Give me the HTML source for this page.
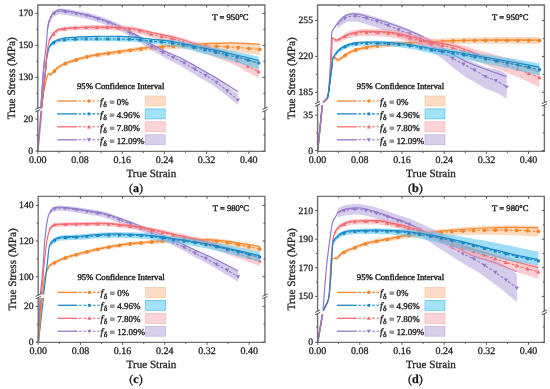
<!DOCTYPE html>
<html><head><meta charset="utf-8"><style>
html,body{margin:0;padding:0;background:#fff;}
body{width:550px;height:389px;overflow:hidden;}
svg{display:block;}
text{text-rendering:geometricPrecision;stroke:#222;stroke-width:0.28px;}
</style></head><body>
<svg width="550" height="389" viewBox="0 0 550 389" style="will-change:transform">
<rect width="550" height="389" fill="#fff"/>
<path d="M48.6,72.5 L49.4,72.7 L50.2,72.9 L50.9,72.8 L52.2,71.7 L53.4,70.5 L54.5,69.2 L55.7,68 L56.8,66.8 L58.1,65.7 L59.7,64.7 L61.3,63.7 L63,62.8 L65.3,61.8 L67.6,60.9 L69.9,60.1 L71.9,59.4 L74,58.7 L76,58 L77.3,57.6 L78.5,57.2 L79.8,56.8 L83.4,55.8 L87,54.7 L90.6,53.9 L98,52.7 L105.5,51.6 L113,50.6 L120.8,49.4 L128.5,48.2 L136.3,47.1 L140.9,46.5 L145.4,46 L150,45.5 L158.2,44.8 L166.5,44.1 L174.7,43.6 L181.9,43.1 L189,42.7 L196.2,42.5 L203,42.5 L209.8,42.5 L216.6,42.6 L220.2,42.7 L223.8,42.8 L227.4,42.8 L231,42.9 L234.6,42.9 L238.2,43 L241.8,43.1 L245.4,43.3 L249,43.5 L252.6,43.7 L256.1,43.8 L259.7,43.9 L259.7,54.9 L256.1,54.5 L252.6,54.1 L249,53.7 L245.4,53.2 L241.8,52.7 L238.2,52.2 L234.6,51.8 L231,51.5 L227.4,51.2 L223.8,50.8 L220.2,50.4 L216.6,50 L209.8,49.4 L203,48.8 L196.2,48.5 L189,48.5 L181.9,48.7 L174.7,49 L166.5,49.5 L158.2,49.9 L150,50.5 L145.4,50.9 L140.9,51.4 L136.3,51.9 L128.5,52.9 L120.8,54 L113,55 L105.5,56 L98,56.9 L90.6,58.1 L87,58.9 L83.4,59.8 L79.8,60.8 L78.5,61.2 L77.3,61.6 L76,62 L74,62.6 L71.9,63.3 L69.9,63.9 L67.6,64.8 L65.3,65.6 L63,66.6 L61.3,67.4 L59.7,68.4 L58.1,69.5 L56.8,70.5 L55.7,71.7 L54.5,72.8 L53.4,74.1 L52.2,75.4 L50.9,76.4 L50.2,76.5 L49.4,76.3 L48.6,76.1 Z" fill="#f9b98a" fill-opacity="0.55"/>
<path d="M41.6,108.2 C42.1,103.8 42.5,99.4 43.2,95 C43.8,91 44.7,87 45.6,83 C46.2,80.5 46.7,78 47.5,75.5 C47.7,74.9 48,74 48.6,73.8 C49.3,73.5 50.2,74.6 50.9,74.2 C52.4,73.4 53.3,71.8 54.5,70.6 C55.7,69.4 56.8,68.2 58.1,67.2 C59.6,66.1 61.3,65.1 63,64.3 C65.2,63.2 67.6,62.4 69.9,61.6 C71.9,60.9 74,60.3 76,59.6 C77.3,59.2 78.5,58.7 79.8,58.4 C83.4,57.5 87,56.5 90.6,55.8 C98,54.4 105.5,53.4 113,52.3 C120.8,51.1 128.5,50.1 136.3,49 C140.9,48.4 145.4,47.6 150,47.2 C158.2,46.4 166.5,45.9 174.7,45.3 C181.9,44.8 189,44.3 196.2,44 C207.5,43.5 218.7,43 230,42.8 C235,42.7 240,43 245,43.3 C249.9,43.5 254.8,44 259.7,44.3" fill="none" stroke="#f5862a" stroke-width="1.2"/>
<path d="M48.6,74.3 C49.4,74.4 50.2,75 50.9,74.6 C52.4,73.8 53.3,72.2 54.5,71 C55.7,69.8 56.8,68.6 58.1,67.6 C59.6,66.5 61.3,65.5 63,64.7 C65.2,63.6 67.6,62.8 69.9,62 C71.9,61.3 74,60.7 76,60 C77.3,59.6 78.5,59.2 79.8,58.8 C83.4,57.8 86.9,56.7 90.6,56 C98,54.7 105.5,53.9 113,52.8 C120.8,51.7 128.5,50.5 136.3,49.5 C140.9,48.9 145.4,48.4 150,48 C158.2,47.3 166.5,46.7 174.7,46.3 C181.9,45.9 189,45.5 196.2,45.5 C203,45.5 209.8,46 216.6,46.3 C220.2,46.5 223.8,46.8 227.4,47 C231,47.2 234.6,47.3 238.2,47.6 C241.8,47.9 245.4,48.3 249,48.6 C252.6,48.9 256.1,49.1 259.7,49.4" fill="none" stroke="#f5862a" stroke-width="1.05" stroke-dasharray="2.9,1.7"/>
<circle cx="259.7" cy="49.4" r="1.9" fill="#f5862a"/>
<circle cx="248.9" cy="48.6" r="1.9" fill="#f5862a"/>
<circle cx="238.1" cy="47.6" r="1.9" fill="#f5862a"/>
<circle cx="227.3" cy="47" r="1.9" fill="#f5862a"/>
<circle cx="216.5" cy="46.3" r="1.9" fill="#f5862a"/>
<circle cx="205.7" cy="45.7" r="1.9" fill="#f5862a"/>
<circle cx="194.9" cy="45.5" r="1.9" fill="#f5862a"/>
<circle cx="184.1" cy="45.8" r="1.9" fill="#f5862a"/>
<circle cx="173.3" cy="46.4" r="1.9" fill="#f5862a"/>
<circle cx="162.5" cy="47" r="1.9" fill="#f5862a"/>
<circle cx="151.7" cy="47.9" r="1.9" fill="#f5862a"/>
<circle cx="140.9" cy="48.9" r="1.9" fill="#f5862a"/>
<circle cx="130.1" cy="50.3" r="1.9" fill="#f5862a"/>
<circle cx="119.3" cy="51.9" r="1.9" fill="#f5862a"/>
<circle cx="108.5" cy="53.4" r="1.9" fill="#f5862a"/>
<circle cx="97.7" cy="54.9" r="1.9" fill="#f5862a"/>
<circle cx="86.9" cy="56.8" r="1.9" fill="#f5862a"/>
<circle cx="76.1" cy="60" r="1.9" fill="#f5862a"/>
<circle cx="65.3" cy="63.7" r="1.9" fill="#f5862a"/>
<circle cx="54.5" cy="71" r="1.9" fill="#f5862a"/>
<path d="M47.9,24.5 L48.4,22.8 L48.8,21.2 L49.3,19.6 L49.8,18 L50.4,16.4 L50.9,15.3 L51.4,14.2 L52,13.1 L52.7,12.1 L53.5,11.2 L54.4,10.5 L55.4,9.8 L56.5,9.3 L57.6,8.8 L58.7,8.6 L60.1,8.4 L61.5,8.4 L63,8.6 L64.4,8.8 L65.8,9 L67.6,9.2 L69.5,9.5 L71.3,9.8 L73.2,10.1 L75,10.4 L78,10.9 L81,11.4 L84,12 L87,12.6 L90,13.3 L94.7,14.7 L99.3,16.1 L103.9,17.7 L108.5,19.4 L113,21.2 L117.7,23.3 L122.4,25.6 L126.9,28.1 L131.5,30.5 L136,33.1 L138.8,34.8 L141.6,36.6 L144.4,38.4 L147.2,40.3 L150,42 L153,43.8 L156.1,45.4 L159.2,47.1 L162.3,48.7 L165.4,50.3 L168.5,51.8 L171.6,53.3 L174.7,54.7 L177.7,56.2 L180.8,57.8 L183.9,59.5 L187,61.2 L190.1,63 L193.1,64.8 L196.2,66.6 L199.9,68.7 L203.7,70.6 L207.5,72.4 L211.1,74.4 L214.7,76.6 L219.5,79.8 L224.2,83.3 L228.8,86.8 L233.4,90.4 L238,93.9 L238,105.1 L233.4,101.3 L228.8,97.5 L224.2,93.7 L219.5,90.1 L214.7,86.5 L211.1,84.2 L207.5,82 L203.7,80 L199.9,77.9 L196.2,75.6 L193.1,73.7 L190.1,71.8 L187,69.8 L183.9,67.9 L180.8,66.1 L177.7,64.4 L174.7,62.8 L171.6,61.3 L168.5,59.7 L165.4,58 L162.3,56.3 L159.2,54.5 L156.1,52.7 L153,50.9 L150,49 L147.2,47.2 L144.4,45.4 L141.6,43.5 L138.8,41.7 L136,39.9 L131.5,37.3 L126.9,34.8 L122.4,32.3 L117.7,30 L113,27.8 L108.5,25.9 L103.9,24.2 L99.3,22.6 L94.7,21.1 L90,19.7 L87,18.9 L84,18.2 L81,17.7 L78,17.1 L75,16.6 L73.2,16.2 L71.3,15.9 L69.5,15.6 L67.6,15.3 L65.8,15 L64.4,14.8 L63,14.6 L61.5,14.4 L60.1,14.4 L58.7,14.4 L57.6,14.7 L56.5,15 L55.4,15.5 L54.4,16.1 L53.5,16.8 L52.7,17.6 L52,18.5 L51.4,19.5 L50.9,20.6 L50.4,21.6 L49.8,23.2 L49.3,24.7 L48.8,26.3 L48.4,27.9 L47.9,29.5 Z" fill="#b7a5dc" fill-opacity="0.58"/>
<path d="M40.8,108.2 C41.7,95.5 42.6,82.7 43.6,70 C43.9,66.7 44.1,63.3 44.5,60 C45,55 45.8,50 46.3,45 C46.9,38.7 47,32.3 47.9,26 C48.3,23.1 49.2,20.2 50.4,17.5 C51.1,15.8 52.1,14.1 53.5,12.8 C55,11.5 56.8,10.3 58.7,10 C61,9.6 63.5,10.2 65.8,10.6 C68.9,11.1 71.9,11.9 75,12.5 C80,13.5 85.1,14.2 90,15.6 C97.8,17.9 105.5,20.3 113,23.5 C120.9,26.8 128.5,30.9 136,35 C140.8,37.6 145.2,40.8 150,43.5 C155,46.3 160.2,49 165.4,51.5 C170.4,53.9 175.8,55.6 180.8,58 C186.1,60.6 191.1,63.6 196.2,66.5 C202.4,70 208.6,73.3 214.7,77 C222.6,81.8 230.2,86.9 238,91.8" fill="none" stroke="#9479c8" stroke-width="1.2"/>
<path d="M47.9,27 C48.7,24.3 49.3,21.6 50.4,19 C51.2,17.2 52,15.3 53.5,14 C54.9,12.7 56.8,11.8 58.7,11.5 C61,11.1 63.4,11.7 65.8,12 C68.9,12.4 71.9,12.9 75,13.5 C80,14.4 85.1,15.1 90,16.5 C97.8,18.8 105.6,21.3 113,24.5 C120.9,27.9 128.5,32.2 136,36.5 C140.8,39.2 145.2,42.7 150,45.5 C155,48.5 160.2,51.2 165.4,53.8 C170.5,56.4 175.8,58.5 180.8,61.2 C186,64 191.1,67 196.2,70 C202.4,73.6 208.9,76.8 214.7,81 C222.8,86.8 230.2,93.7 238,100" fill="none" stroke="#9479c8" stroke-width="1.05" stroke-dasharray="2.9,1.7"/>
<path d="M238,102.1 L235.9,98.4 L240.1,98.4 Z" fill="#9479c8"/>
<path d="M227.2,93 L225.1,89.3 L229.3,89.3 Z" fill="#9479c8"/>
<path d="M216.4,84.4 L214.3,80.7 L218.5,80.7 Z" fill="#9479c8"/>
<path d="M205.6,77.4 L203.5,73.7 L207.7,73.7 Z" fill="#9479c8"/>
<path d="M194.8,71.3 L192.7,67.6 L196.9,67.6 Z" fill="#9479c8"/>
<path d="M184,65.1 L181.9,61.4 L186.1,61.4 Z" fill="#9479c8"/>
<path d="M173.2,59.6 L171.1,55.9 L175.3,55.9 Z" fill="#9479c8"/>
<path d="M162.4,54.4 L160.3,50.7 L164.5,50.7 Z" fill="#9479c8"/>
<path d="M151.6,48.6 L149.5,44.9 L153.7,44.9 Z" fill="#9479c8"/>
<path d="M140.8,41.6 L138.7,37.9 L142.9,37.9 Z" fill="#9479c8"/>
<path d="M130,35.2 L127.9,31.5 L132.1,31.5 Z" fill="#9479c8"/>
<path d="M119.2,29.5 L117.1,25.8 L121.3,25.8 Z" fill="#9479c8"/>
<path d="M108.4,24.7 L106.3,21 L110.5,21 Z" fill="#9479c8"/>
<path d="M97.6,20.9 L95.5,17.2 L99.7,17.2 Z" fill="#9479c8"/>
<path d="M86.8,17.8 L84.7,14.1 L88.9,14.1 Z" fill="#9479c8"/>
<path d="M76,15.8 L73.9,12.1 L78.1,12.1 Z" fill="#9479c8"/>
<path d="M65.2,14 L63.1,10.3 L67.3,10.3 Z" fill="#9479c8"/>
<path d="M54.4,15.4 L52.3,11.7 L56.5,11.7 Z" fill="#9479c8"/>
<path d="M50,37.3 L50.5,36.5 L51,35.7 L51.5,34.9 L52,34.1 L52.5,33.4 L53.1,32.7 L53.7,32 L54.3,31.3 L54.9,30.7 L55.6,30 L56.2,29.5 L56.7,29 L57.4,28.5 L58,28.2 L58.7,27.9 L61.6,27.3 L64.6,26.8 L67.6,26.4 L70.6,26 L73.6,25.8 L77.9,25.5 L82.2,25.3 L86.4,25.2 L90.7,25.1 L95,25.1 L100,25 L105,25 L110,25 L115,25.1 L120,25.3 L123.2,25.5 L126.4,25.8 L129.6,26.1 L132.8,26.6 L136,27.1 L138.8,27.8 L141.6,28.6 L144.4,29.4 L147.2,30.3 L150,31 L154.9,32 L159.9,32.9 L164.8,33.7 L169.8,34.7 L174.7,35.8 L179,36.9 L183.3,38.1 L187.6,39.5 L191.9,40.8 L196.2,42.1 L203,44 L209.8,45.9 L216.6,47.8 L223.3,49.8 L230,52 L233.8,53.4 L237.6,55.1 L241.3,56.8 L245,58.6 L248.7,60.3 L250.7,61.3 L252.8,62.3 L254.8,63.2 L256.8,64.2 L258.8,65.2 L258.8,78.2 L256.8,77.1 L254.8,76 L252.8,74.8 L250.7,73.7 L248.7,72.7 L245,70.7 L241.3,68.6 L237.6,66.6 L233.8,64.7 L230,63 L223.3,60.4 L216.6,57.9 L209.8,55.6 L203,53.2 L196.2,50.9 L191.9,49.3 L187.6,47.7 L183.3,46.1 L179,44.6 L174.7,43.2 L169.8,41.9 L164.8,40.6 L159.9,39.5 L154.9,38.3 L150,37 L147.2,36.2 L144.4,35.3 L141.6,34.4 L138.8,33.6 L136,32.9 L132.8,32.2 L129.6,31.7 L126.4,31.3 L123.2,31 L120,30.7 L115,30.4 L110,30.2 L105,30.1 L100,30 L95,29.9 L90.7,29.9 L86.4,29.9 L82.2,29.9 L77.9,30 L73.6,30.2 L70.6,30.4 L67.6,30.7 L64.6,31.1 L61.6,31.5 L58.7,32.1 L58,32.3 L57.4,32.7 L56.7,33.2 L56.2,33.7 L55.6,34.2 L54.9,34.8 L54.3,35.4 L53.7,36 L53.1,36.7 L52.5,37.4 L52,38.2 L51.5,38.9 L51,39.7 L50.5,40.5 L50,41.3 Z" fill="#f7a3aa" fill-opacity="0.55"/>
<path d="M41.6,108.2 C42.9,95.5 44.3,82.7 45.6,70 C45.9,66.7 46.1,63.3 46.4,60 C46.9,55.1 47.4,50.1 48.2,45.2 C48.6,42.9 49.1,40.5 50,38.3 C50.6,36.9 51.5,35.6 52.5,34.4 C53.4,33.2 54.5,32.1 55.6,31.2 C56.5,30.4 57.5,29.5 58.7,29.3 C63.6,28.4 68.6,28.1 73.6,27.8 C80.7,27.3 87.9,27 95,27 C103.3,26.9 111.7,27.1 120,27.5 C125.4,27.8 130.7,28.2 136,29 C140.7,29.7 145.3,31 150,32 C158.2,33.8 166.5,35.3 174.7,37.5 C182,39.4 189,42.1 196.2,44.2 C207.4,47.6 218.8,50.5 230,54 C239.7,57 249.2,60.3 258.8,63.5" fill="none" stroke="#f46a70" stroke-width="1.2"/>
<path d="M50,39.3 C50.8,38 51.6,36.6 52.5,35.4 C53.4,34.2 54.5,33.1 55.6,32.1 C56.5,31.3 57.5,30.3 58.7,30 C63.6,28.9 68.6,28.3 73.6,28 C80.7,27.5 87.9,27.5 95,27.5 C103.3,27.5 111.7,27.5 120,28 C125.4,28.3 130.7,28.9 136,30 C140.8,31 145.3,32.8 150,34 C158.2,36 166.6,37.3 174.7,39.5 C182,41.5 189,44.2 196.2,46.5 C207.5,50.2 218.9,53.3 230,57.5 C236.5,60 242.5,63.4 248.7,66.5 C252.1,68.2 255.4,70 258.8,71.7" fill="none" stroke="#f46a70" stroke-width="1.05" stroke-dasharray="2.9,1.7"/>
<path d="M258.8,69.6 L256.7,73.3 L260.9,73.3 Z" fill="#f46a70"/>
<path d="M248,64 L245.9,67.7 L250.1,67.7 Z" fill="#f46a70"/>
<path d="M237.2,58.5 L235.1,62.2 L239.3,62.2 Z" fill="#f46a70"/>
<path d="M226.4,54 L224.3,57.7 L228.5,57.7 Z" fill="#f46a70"/>
<path d="M215.6,50.4 L213.5,54.1 L217.7,54.1 Z" fill="#f46a70"/>
<path d="M204.8,47.1 L202.7,50.8 L206.9,50.8 Z" fill="#f46a70"/>
<path d="M194,43.6 L191.9,47.3 L196.1,47.3 Z" fill="#f46a70"/>
<path d="M183.2,40 L181.1,43.7 L185.3,43.7 Z" fill="#f46a70"/>
<path d="M172.4,36.8 L170.3,40.5 L174.5,40.5 Z" fill="#f46a70"/>
<path d="M161.6,34.4 L159.5,38.1 L163.7,38.1 Z" fill="#f46a70"/>
<path d="M150.8,32.1 L148.7,35.8 L152.9,35.8 Z" fill="#f46a70"/>
<path d="M140,28.9 L137.9,32.6 L142.1,32.6 Z" fill="#f46a70"/>
<path d="M129.2,26.7 L127.1,30.4 L131.3,30.4 Z" fill="#f46a70"/>
<path d="M118.4,25.8 L116.3,29.5 L120.5,29.5 Z" fill="#f46a70"/>
<path d="M107.6,25.4 L105.5,29.1 L109.7,29.1 Z" fill="#f46a70"/>
<path d="M96.8,25.4 L94.7,29.1 L98.9,29.1 Z" fill="#f46a70"/>
<path d="M86,25.4 L83.9,29.1 L88.1,29.1 Z" fill="#f46a70"/>
<path d="M75.2,25.8 L73.1,29.5 L77.3,29.5 Z" fill="#f46a70"/>
<path d="M64.4,26.8 L62.3,30.5 L66.5,30.5 Z" fill="#f46a70"/>
<path d="M53.6,32 L51.5,35.7 L55.7,35.7 Z" fill="#f46a70"/>
<path d="M50.2,44 L50.6,43.5 L51.1,43 L51.5,42.5 L52,42 L52.5,41.6 L53.1,41.2 L53.7,40.8 L54.3,40.4 L55,40.1 L55.6,39.8 L56.2,39.5 L56.8,39.2 L57.4,38.9 L58.1,38.6 L58.7,38.5 L60.1,38.2 L61.6,38 L63,37.8 L64.5,37.7 L65.9,37.6 L69,37.4 L72.1,37.3 L75.1,37.2 L78.2,37 L81.3,36.9 L84,36.9 L86.8,36.8 L89.5,36.7 L92.3,36.7 L95,36.7 L100,36.7 L105,36.7 L110,36.7 L115,36.7 L120,36.8 L123.3,36.8 L126.5,36.8 L129.8,36.9 L133,37 L136.3,37.2 L139,37.4 L141.8,37.6 L144.5,37.9 L147.3,38.2 L150,38.5 L154.9,38.8 L159.9,39.1 L164.8,39.4 L169.8,39.8 L174.7,40.4 L179,41 L183.3,41.7 L187.6,42.6 L191.9,43.5 L196.2,44.3 L203,45.5 L209.7,46.7 L216.5,47.9 L223.3,49.1 L230,50.4 L235.8,51.6 L241.5,52.9 L247.3,54.1 L253,55.4 L258.8,56.7 L258.8,69.3 L253,67.5 L247.3,65.7 L241.5,64 L235.8,62.2 L230,60.6 L223.3,58.7 L216.5,56.9 L209.7,55.1 L203,53.4 L196.2,51.7 L191.9,50.6 L187.6,49.5 L183.3,48.5 L179,47.5 L174.7,46.6 L169.8,45.9 L164.8,45.2 L159.9,44.6 L154.9,44.1 L150,43.5 L147.3,43.2 L144.5,42.9 L141.8,42.5 L139,42.3 L136.3,42 L133,41.8 L129.8,41.7 L126.5,41.6 L123.3,41.5 L120,41.5 L115,41.3 L110,41.3 L105,41.2 L100,41.2 L95,41.1 L92.3,41.1 L89.5,41.1 L86.8,41.2 L84,41.2 L81.3,41.3 L78.2,41.3 L75.1,41.4 L72.1,41.5 L69,41.6 L65.9,41.8 L64.5,41.9 L63,42 L61.6,42.1 L60.1,42.3 L58.7,42.5 L58.1,42.7 L57.4,42.9 L56.8,43.2 L56.2,43.5 L55.6,43.8 L55,44.1 L54.3,44.5 L53.7,44.8 L53.1,45.2 L52.5,45.6 L52,46 L51.5,46.5 L51.1,47 L50.6,47.5 L50.2,48 Z" fill="#5cc6ee" fill-opacity="0.6"/>
<path d="M41.6,108.2 C42.9,95.5 44.3,82.7 45.6,70 C46,66 46.2,62 46.8,58 C47.2,55 47.8,52 48.6,49 C49,47.7 49.5,46.4 50.2,45.2 C50.8,44.2 51.6,43.4 52.5,42.7 C53.4,42 54.5,41.4 55.6,40.9 C56.6,40.4 57.7,40 58.7,39.6 C59.8,39.2 60.9,38.8 62,38.5 C63.3,38.2 64.6,38 65.9,37.9 C71,37.4 76.2,37.1 81.3,36.8 C85.9,36.5 90.4,36.3 95,36.3 C103.3,36.2 111.7,36.2 120,36.4 C125.4,36.5 130.9,36.8 136.3,37.3 C140.9,37.7 145.4,38.4 150,39 C158.2,40 166.5,40.7 174.7,42 C181.9,43.2 189,45 196.2,46.5 C207.5,48.8 218.8,51 230,53.5 C239.6,55.7 249.2,58.2 258.8,60.5" fill="none" stroke="#1a87c3" stroke-width="1.2"/>
<path d="M50.2,46 C51,45.2 51.6,44.3 52.5,43.6 C53.4,42.9 54.5,42.3 55.6,41.8 C56.6,41.3 57.6,40.7 58.7,40.5 C61.1,40 63.5,39.8 65.9,39.7 C71,39.4 76.2,39.2 81.3,39.1 C85.9,39 90.4,38.9 95,38.9 C103.3,38.9 111.7,39 120,39.1 C125.4,39.2 130.9,39.3 136.3,39.6 C140.9,39.9 145.4,40.5 150,41 C158.2,41.8 166.5,42.3 174.7,43.5 C181.9,44.6 189,46.4 196.2,48 C207.5,50.4 218.8,52.8 230,55.5 C239.6,57.8 249.2,60.5 258.8,63" fill="none" stroke="#1a87c3" stroke-width="1.05" stroke-dasharray="2.9,1.7"/>
<rect x="257.4" y="61.6" width="2.9" height="2.9" fill="#1a87c3"/>
<rect x="246.6" y="58.7" width="2.9" height="2.9" fill="#1a87c3"/>
<rect x="235.8" y="55.8" width="2.9" height="2.9" fill="#1a87c3"/>
<rect x="225" y="53.2" width="2.9" height="2.9" fill="#1a87c3"/>
<rect x="214.2" y="50.8" width="2.9" height="2.9" fill="#1a87c3"/>
<rect x="203.4" y="48.4" width="2.9" height="2.9" fill="#1a87c3"/>
<rect x="192.6" y="46.1" width="2.9" height="2.9" fill="#1a87c3"/>
<rect x="181.8" y="43.6" width="2.9" height="2.9" fill="#1a87c3"/>
<rect x="171" y="41.7" width="2.9" height="2.9" fill="#1a87c3"/>
<rect x="160.2" y="40.6" width="2.9" height="2.9" fill="#1a87c3"/>
<rect x="149.4" y="39.6" width="2.9" height="2.9" fill="#1a87c3"/>
<rect x="138.6" y="38.5" width="2.9" height="2.9" fill="#1a87c3"/>
<rect x="127.8" y="37.8" width="2.9" height="2.9" fill="#1a87c3"/>
<rect x="117" y="37.6" width="2.9" height="2.9" fill="#1a87c3"/>
<rect x="106.2" y="37.5" width="2.9" height="2.9" fill="#1a87c3"/>
<rect x="95.4" y="37.5" width="2.9" height="2.9" fill="#1a87c3"/>
<rect x="84.6" y="37.5" width="2.9" height="2.9" fill="#1a87c3"/>
<rect x="73.8" y="37.8" width="2.9" height="2.9" fill="#1a87c3"/>
<rect x="63" y="38.4" width="2.9" height="2.9" fill="#1a87c3"/>
<rect x="52.2" y="41.4" width="2.9" height="2.9" fill="#1a87c3"/>
<path d="M41.6,108.2 C42.3,101.8 42.9,95.4 43.6,89 C44.3,82.7 45,76.3 45.6,70 C45.9,66.7 46.1,63.3 46.4,60 C46.6,57.3 46.9,54.7 47.2,52" fill="none" stroke="#f46a70" stroke-width="1.3"/>
<path d="M40.8,108.2 C41.4,99.8 42,91.4 42.6,83 C42.9,78.7 43.2,74.3 43.6,70 C43.9,66.7 44.2,63.3 44.5,60" fill="none" stroke="#9479c8" stroke-width="1.3"/>
<path d="M38,151 L41.8,110.8" fill="none" stroke="#f46a70" stroke-width="1.3"/>
<path d="M37.7,151 L41,110.8" fill="none" stroke="#9479c8" stroke-width="1.3"/>
<path d="M37.8,108.3 L37.8,5 L264.9,5 L264.9,108.3 M37.8,110.7 L37.8,151.4 L264.9,151.4 L264.9,110.7" fill="none" stroke="#707070" stroke-width="1.4"/>
<line x1="35.2" y1="109.5" x2="40.4" y2="107.1" stroke="#444" stroke-width="0.9"/>
<line x1="35.2" y1="111.9" x2="40.4" y2="109.5" stroke="#444" stroke-width="0.9"/>
<line x1="262.3" y1="109.5" x2="267.5" y2="107.1" stroke="#444" stroke-width="0.9"/>
<line x1="262.3" y1="111.9" x2="267.5" y2="109.5" stroke="#444" stroke-width="0.9"/>
<line x1="37.8" y1="151.4" x2="37.8" y2="153.8" stroke="#707070" stroke-width="0.9"/>
<text x="37.8" y="163.2" font-family="Liberation Serif, serif" font-size="10" text-anchor="middle" fill="#222">0.00</text>
<line x1="58.9" y1="151.4" x2="58.9" y2="152.9" stroke="#505050" stroke-width="1"/>
<line x1="58.9" y1="5" x2="58.9" y2="6.5" stroke="#505050" stroke-width="1"/>
<line x1="80" y1="151.4" x2="80" y2="153.8" stroke="#505050" stroke-width="1"/>
<line x1="80" y1="5" x2="80" y2="7.3" stroke="#505050" stroke-width="1"/>
<text x="80" y="163.2" font-family="Liberation Serif, serif" font-size="10" text-anchor="middle" fill="#222">0.08</text>
<line x1="101.1" y1="151.4" x2="101.1" y2="152.9" stroke="#505050" stroke-width="1"/>
<line x1="101.1" y1="5" x2="101.1" y2="6.5" stroke="#505050" stroke-width="1"/>
<line x1="122.2" y1="151.4" x2="122.2" y2="153.8" stroke="#505050" stroke-width="1"/>
<line x1="122.2" y1="5" x2="122.2" y2="7.3" stroke="#505050" stroke-width="1"/>
<text x="122.2" y="163.2" font-family="Liberation Serif, serif" font-size="10" text-anchor="middle" fill="#222">0.16</text>
<line x1="143.3" y1="151.4" x2="143.3" y2="152.9" stroke="#505050" stroke-width="1"/>
<line x1="143.3" y1="5" x2="143.3" y2="6.5" stroke="#505050" stroke-width="1"/>
<line x1="164.4" y1="151.4" x2="164.4" y2="153.8" stroke="#505050" stroke-width="1"/>
<line x1="164.4" y1="5" x2="164.4" y2="7.3" stroke="#505050" stroke-width="1"/>
<text x="164.4" y="163.2" font-family="Liberation Serif, serif" font-size="10" text-anchor="middle" fill="#222">0.24</text>
<line x1="185.5" y1="151.4" x2="185.5" y2="152.9" stroke="#505050" stroke-width="1"/>
<line x1="185.5" y1="5" x2="185.5" y2="6.5" stroke="#505050" stroke-width="1"/>
<line x1="206.6" y1="151.4" x2="206.6" y2="153.8" stroke="#505050" stroke-width="1"/>
<line x1="206.6" y1="5" x2="206.6" y2="7.3" stroke="#505050" stroke-width="1"/>
<text x="206.6" y="163.2" font-family="Liberation Serif, serif" font-size="10" text-anchor="middle" fill="#222">0.32</text>
<line x1="227.7" y1="151.4" x2="227.7" y2="152.9" stroke="#505050" stroke-width="1"/>
<line x1="227.7" y1="5" x2="227.7" y2="6.5" stroke="#505050" stroke-width="1"/>
<line x1="248.8" y1="151.4" x2="248.8" y2="153.8" stroke="#505050" stroke-width="1"/>
<line x1="248.8" y1="5" x2="248.8" y2="7.3" stroke="#505050" stroke-width="1"/>
<text x="248.8" y="163.2" font-family="Liberation Serif, serif" font-size="10" text-anchor="middle" fill="#222">0.40</text>
<line x1="35.4" y1="151" x2="37.8" y2="151" stroke="#505050" stroke-width="1"/>
<line x1="262.5" y1="151" x2="264.9" y2="151" stroke="#505050" stroke-width="1"/>
<text x="33.2" y="153.9" font-family="Liberation Serif, serif" font-size="9.7" text-anchor="end" fill="#222">0</text>
<line x1="36.3" y1="135" x2="37.8" y2="135" stroke="#505050" stroke-width="1"/>
<line x1="263.4" y1="135" x2="264.9" y2="135" stroke="#505050" stroke-width="1"/>
<line x1="35.4" y1="119" x2="37.8" y2="119" stroke="#505050" stroke-width="1"/>
<line x1="262.5" y1="119" x2="264.9" y2="119" stroke="#505050" stroke-width="1"/>
<text x="33.2" y="121.9" font-family="Liberation Serif, serif" font-size="9.7" text-anchor="end" fill="#222">20</text>
<line x1="36.3" y1="93.4" x2="37.8" y2="93.4" stroke="#505050" stroke-width="1"/>
<line x1="263.4" y1="93.4" x2="264.9" y2="93.4" stroke="#505050" stroke-width="1"/>
<line x1="35.4" y1="77.4" x2="37.8" y2="77.4" stroke="#505050" stroke-width="1"/>
<line x1="262.5" y1="77.4" x2="264.9" y2="77.4" stroke="#505050" stroke-width="1"/>
<text x="33.2" y="80.3" font-family="Liberation Serif, serif" font-size="9.7" text-anchor="end" fill="#222">130</text>
<line x1="36.3" y1="61.4" x2="37.8" y2="61.4" stroke="#505050" stroke-width="1"/>
<line x1="263.4" y1="61.4" x2="264.9" y2="61.4" stroke="#505050" stroke-width="1"/>
<line x1="35.4" y1="45.4" x2="37.8" y2="45.4" stroke="#505050" stroke-width="1"/>
<line x1="262.5" y1="45.4" x2="264.9" y2="45.4" stroke="#505050" stroke-width="1"/>
<text x="33.2" y="48.3" font-family="Liberation Serif, serif" font-size="9.7" text-anchor="end" fill="#222">150</text>
<line x1="36.3" y1="29.4" x2="37.8" y2="29.4" stroke="#505050" stroke-width="1"/>
<line x1="263.4" y1="29.4" x2="264.9" y2="29.4" stroke="#505050" stroke-width="1"/>
<line x1="35.4" y1="13.4" x2="37.8" y2="13.4" stroke="#505050" stroke-width="1"/>
<line x1="262.5" y1="13.4" x2="264.9" y2="13.4" stroke="#505050" stroke-width="1"/>
<text x="33.2" y="16.3" font-family="Liberation Serif, serif" font-size="9.7" text-anchor="end" fill="#222">170</text>
<text x="151.3" y="176.7" font-family="Liberation Serif, serif" font-size="11.1" text-anchor="middle" fill="#222">True Strain</text>
<text transform="translate(15.3,78.2) rotate(-90)" font-family="Liberation Serif, serif" font-size="11.25" text-anchor="middle" fill="#222">True Stress (MPa)</text>
<text x="212.3" y="19.7" font-family="Liberation Serif, serif" font-size="8.6" fill="#222" style="stroke-width:0.4px">T = 950°C</text>
<text x="136" y="191.7" font-family="Liberation Serif, serif" font-size="12.1" text-anchor="middle" fill="#111">(<tspan font-weight="bold">a</tspan>)</text>
<text x="77" y="88.7" font-family="Liberation Serif, serif" font-size="8.7" fill="#222" style="stroke-width:0.4px">95% Confidence Interval</text>
<line x1="57.2" y1="101" x2="77" y2="101" stroke="#f5862a" stroke-width="1.3"/>
<line x1="78.4" y1="101" x2="99.3" y2="101" stroke="#f5862a" stroke-width="1.1" stroke-dasharray="2.9,1.7"/>
<circle cx="89" cy="101" r="1.8" fill="#f5862a"/>
<text x="100.1" y="104.8" font-family="Liberation Serif, serif" font-size="9" fill="#222" style="stroke-width:0.35px"><tspan font-style="italic" font-size="9.6">f</tspan><tspan font-size="7.6" dx="0.5" dy="2.3">δ</tspan><tspan dx="0.35" dy="-2.3"> = 0%</tspan></text>
<rect x="145.2" y="96" width="20" height="10" fill="#fcdcc4" stroke="#f6c29a" stroke-width="0.6"/>
<line x1="57.2" y1="113.9" x2="77" y2="113.9" stroke="#1a87c3" stroke-width="1.3"/>
<line x1="78.4" y1="113.9" x2="99.3" y2="113.9" stroke="#1a87c3" stroke-width="1.1" stroke-dasharray="2.9,1.7"/>
<rect x="87.6" y="112.5" width="2.8" height="2.8" fill="#1a87c3"/>
<text x="100.1" y="117.7" font-family="Liberation Serif, serif" font-size="9" fill="#222" style="stroke-width:0.35px"><tspan font-style="italic" font-size="9.6">f</tspan><tspan font-size="7.6" dx="0.5" dy="2.3">δ</tspan><tspan dx="0.35" dy="-2.3"> = 4.96%</tspan></text>
<rect x="145.2" y="108.9" width="20" height="10" fill="#a0e2f8" stroke="#52b5e0" stroke-width="0.6"/>
<line x1="57.2" y1="126.8" x2="77" y2="126.8" stroke="#f46a70" stroke-width="1.3"/>
<line x1="78.4" y1="126.8" x2="99.3" y2="126.8" stroke="#f46a70" stroke-width="1.1" stroke-dasharray="2.9,1.7"/>
<path d="M89,124.8 L86.9,128.4 L91.1,128.4 Z" fill="#f46a70"/>
<text x="100.1" y="130.7" font-family="Liberation Serif, serif" font-size="9" fill="#222" style="stroke-width:0.35px"><tspan font-style="italic" font-size="9.6">f</tspan><tspan font-size="7.6" dx="0.5" dy="2.3">δ</tspan><tspan dx="0.35" dy="-2.3"> = 7.80%</tspan></text>
<rect x="145.2" y="121.8" width="20" height="10" fill="#fcd3d6" stroke="#f4aab0" stroke-width="0.6"/>
<line x1="57.2" y1="139.8" x2="77" y2="139.8" stroke="#9479c8" stroke-width="1.3"/>
<line x1="78.4" y1="139.8" x2="99.3" y2="139.8" stroke="#9479c8" stroke-width="1.1" stroke-dasharray="2.9,1.7"/>
<path d="M89,141.9 L86.9,138.3 L91.1,138.3 Z" fill="#9479c8"/>
<text x="100.1" y="143.6" font-family="Liberation Serif, serif" font-size="9" fill="#222" style="stroke-width:0.35px"><tspan font-style="italic" font-size="9.6">f</tspan><tspan font-size="7.6" dx="0.5" dy="2.3">δ</tspan><tspan dx="0.35" dy="-2.3"> = 12.09%</tspan></text>
<rect x="145.2" y="134.8" width="20" height="10" fill="#d8cfea" stroke="#b9a8dc" stroke-width="0.6"/>
<path d="M333.2,55 L333.9,55.5 L334.6,56.1 L335.2,56.7 L335.9,57.3 L336.6,57.7 L337.3,58 L338.1,58 L339.4,57.6 L340.5,57 L341.6,56.2 L342.7,55.3 L343.7,54.3 L344.8,53.5 L345.9,52.7 L347.2,52 L348.5,51.2 L349.8,50.5 L351.1,49.9 L352.4,49.2 L353.7,48.6 L355.1,48.1 L356.6,47.6 L358.1,47.2 L359.7,46.8 L361.2,46.5 L362.8,46.1 L364.3,45.8 L365.9,45.5 L367.2,45.2 L368.5,45 L369.8,44.7 L371.1,44.5 L372.4,44.3 L373.7,44.1 L375,43.9 L378.6,43.4 L382.1,43 L385.7,42.5 L389.3,42.1 L392.8,41.7 L396.4,41.3 L400,41 L404.4,40.7 L408.8,40.5 L413.2,40.3 L417.6,40.1 L422,40 L426.4,39.8 L430.8,39.6 L433,39.4 L435.2,39.2 L437.4,39 L439.6,38.8 L441.8,38.6 L444,38.4 L446.2,38.3 L451,38.1 L455.9,37.9 L460.7,37.7 L465.5,37.6 L470.3,37.5 L475.2,37.4 L480,37.3 L488.5,37.2 L497,37.1 L505.5,37.1 L514,37.1 L522.5,37.1 L531,37 L539.5,37 L539.5,44 L531,43.9 L522.5,43.9 L514,43.8 L505.5,43.8 L497,43.7 L488.5,43.7 L480,43.7 L475.2,43.7 L470.3,43.8 L465.5,43.8 L460.7,43.9 L455.9,44 L451,44.2 L446.2,44.3 L444,44.4 L441.8,44.6 L439.6,44.8 L437.4,45 L435.2,45.1 L433,45.3 L430.8,45.4 L426.4,45.6 L422,45.6 L417.6,45.7 L413.2,45.8 L408.8,45.9 L404.4,46 L400,46.2 L396.4,46.5 L392.8,46.8 L389.3,47.1 L385.7,47.5 L382.1,47.9 L378.6,48.3 L375,48.7 L373.7,48.8 L372.4,49 L371.1,49.2 L369.8,49.4 L368.5,49.6 L367.2,49.9 L365.9,50.1 L364.3,50.4 L362.8,50.7 L361.2,51 L359.7,51.3 L358.1,51.6 L356.6,52 L355.1,52.5 L353.7,53 L352.4,53.6 L351.1,54.2 L349.8,54.8 L348.5,55.5 L347.2,56.2 L345.9,56.9 L344.8,57.6 L343.7,58.5 L342.7,59.4 L341.6,60.3 L340.5,61.1 L339.4,61.7 L338.1,62 L337.3,62 L336.6,61.7 L335.9,61.3 L335.2,60.7 L334.6,60.1 L333.9,59.5 L333.2,59 Z" fill="#f9b98a" fill-opacity="0.55"/>
<path d="M323.1,102.5 C324.5,101 326.7,99.9 327.4,98 C328.9,93.9 328.9,89.3 329.5,85 C330.5,77.3 331.3,69.7 332.3,62 C332.5,60.2 331.5,57.3 333.2,56.7 C335,56 336.2,60.1 338.1,59.8 C341.2,59.2 343.2,56 345.9,54.4 C348.9,52.7 351.9,50.9 355.1,49.8 C358.6,48.6 362.3,48.1 365.9,47.4 C368.9,46.8 371.9,46.3 375,45.9 C383.3,44.9 391.6,43.7 400,43.1 C410.2,42.4 420.5,42.5 430.8,42 C435.9,41.7 441.1,41 446.2,40.8 C457.5,40.3 468.7,40.1 480,40 C499.8,39.8 519.7,40 539.5,40" fill="none" stroke="#f5862a" stroke-width="1.2"/>
<path d="M333.2,57 C334.8,58 336.2,60.3 338.1,60 C341.2,59.5 343.2,56.3 345.9,54.8 C348.9,53.1 351.9,51.4 355.1,50.3 C358.6,49.1 362.3,48.5 365.9,47.8 C368.9,47.2 371.9,46.7 375,46.3 C383.3,45.3 391.6,44.2 400,43.6 C410.2,42.9 420.5,43 430.8,42.5 C435.9,42.2 441.1,41.5 446.2,41.3 C457.5,40.8 468.7,40.6 480,40.5 C499.8,40.3 519.7,40.5 539.5,40.5" fill="none" stroke="#f5862a" stroke-width="1.05" stroke-dasharray="2.9,1.7"/>
<circle cx="539.5" cy="40.5" r="1.9" fill="#f5862a"/>
<circle cx="528.7" cy="40.5" r="1.9" fill="#f5862a"/>
<circle cx="517.9" cy="40.5" r="1.9" fill="#f5862a"/>
<circle cx="507.1" cy="40.4" r="1.9" fill="#f5862a"/>
<circle cx="496.3" cy="40.4" r="1.9" fill="#f5862a"/>
<circle cx="485.5" cy="40.5" r="1.9" fill="#f5862a"/>
<circle cx="474.7" cy="40.6" r="1.9" fill="#f5862a"/>
<circle cx="463.9" cy="40.7" r="1.9" fill="#f5862a"/>
<circle cx="453.1" cy="41" r="1.9" fill="#f5862a"/>
<circle cx="442.3" cy="41.5" r="1.9" fill="#f5862a"/>
<circle cx="431.5" cy="42.5" r="1.9" fill="#f5862a"/>
<circle cx="420.7" cy="42.9" r="1.9" fill="#f5862a"/>
<circle cx="409.9" cy="43.1" r="1.9" fill="#f5862a"/>
<circle cx="399.1" cy="43.7" r="1.9" fill="#f5862a"/>
<circle cx="388.3" cy="44.7" r="1.9" fill="#f5862a"/>
<circle cx="377.5" cy="46" r="1.9" fill="#f5862a"/>
<circle cx="366.7" cy="47.6" r="1.9" fill="#f5862a"/>
<circle cx="355.9" cy="50" r="1.9" fill="#f5862a"/>
<circle cx="345.1" cy="55.3" r="1.9" fill="#f5862a"/>
<path d="M337.4,21.8 L338.8,20.4 L340.1,18.9 L341.5,17.5 L343,16.2 L344.3,15.3 L345.6,14.5 L347,13.9 L348.4,13.3 L349.5,13 L350.7,12.8 L351.8,12.7 L353,12.6 L354.3,12.6 L355.5,12.6 L356.8,12.7 L358,12.8 L359.5,13 L360.9,13.2 L362.4,13.5 L363.8,13.8 L367.9,14.8 L371.9,15.9 L376,17.1 L380,18.4 L383.9,19.7 L387.8,21 L391.6,22.5 L395.5,23.9 L401.7,26.2 L407.9,28.7 L414,31.3 L420,34.1 L425.8,37.5 L431.4,41.1 L437,44.9 L442.6,48.3 L445.3,49.7 L448,51.1 L450.7,52.4 L453.4,53.8 L456.3,55.1 L459.2,56.4 L462.1,57.8 L465,59.1 L468,60.2 L470.9,61.3 L473.9,62.4 L476.8,63.5 L479,64.5 L481.3,65.5 L483.5,66.5 L485.8,67.3 L488.7,68 L491.6,68.5 L494.5,69 L497.4,69.7 L499.8,70.6 L502.1,71.6 L504.4,72.7 L506.7,73.8 L506.7,98.8 L504.4,97.3 L502.1,95.9 L499.8,94.4 L497.4,93.1 L494.5,91.9 L491.6,90.9 L488.7,89.9 L485.8,88.7 L483.5,87.5 L481.3,86.1 L479,84.7 L476.8,83.3 L473.9,81.7 L470.9,80.1 L468,78.6 L465,76.8 L462.1,74.6 L459.2,72.3 L456.3,70.1 L453.4,67.9 L450.7,65.7 L448,63.5 L445.3,61.3 L442.6,59.1 L437,55 L431.4,51.4 L425.8,48 L420,44.9 L414,42.2 L407.9,39.8 L401.7,37.5 L395.5,35.1 L391.6,33.5 L387.8,31.9 L383.9,30.3 L380,28.8 L376,27.4 L371.9,26 L367.9,24.7 L363.8,23.4 L362.4,23 L360.9,22.6 L359.5,22.2 L358,21.9 L356.8,21.7 L355.5,21.6 L354.3,21.5 L353,21.5 L351.8,21.4 L350.7,21.5 L349.5,21.6 L348.4,21.7 L347,22.1 L345.6,22.6 L344.3,23.2 L343,23.9 L341.5,25 L340.1,26.2 L338.8,27.5 L337.4,28.8 Z" fill="#b7a5dc" fill-opacity="0.58"/>
<path d="M323.1,102.5 C324.5,101 326.8,100 327.4,98 C329.1,92.2 329.1,86 329.5,80 C330.4,68.3 330.7,56.7 331.3,45 C331.5,40.5 331.1,35.9 332,31.5 C332.3,29.9 333.8,28.8 334.7,27.4 C335.6,26 336.3,24.6 337.4,23.3 C339.1,21.2 340.9,19.2 343,17.5 C344.6,16.2 346.5,15.2 348.4,14.5 C349.9,14 351.4,13.8 353,13.8 C354.7,13.7 356.3,13.9 358,14.2 C360,14.5 361.9,15 363.8,15.5 C369.2,17.1 374.6,18.8 380,20.5 C385.2,22.1 390.4,23.7 395.5,25.5 C401.4,27.6 407.2,29.8 412.9,32.2 C417.2,34 421.5,35.9 425.7,38 C430.6,40.5 435.3,43.2 440,46 C442.8,47.7 445.2,49.8 448,51.5 C453.9,55 459.8,58.5 466,61.5 C471.8,64.3 477.9,66.5 484,68.7 C491.5,71.5 499.1,73.9 506.7,76.5" fill="none" stroke="#9479c8" stroke-width="1.2"/>
<path d="M337.4,24.8 C339.3,23 340.9,20.9 343,19.4 C344.6,18.2 346.5,17.4 348.4,16.8 C349.9,16.3 351.5,16.3 353,16.2 C354.7,16.1 356.3,16.2 358,16.4 C360,16.7 361.9,17.1 363.8,17.6 C369.2,19.1 374.7,20.8 380,22.6 C385.2,24.4 390.4,26.5 395.5,28.5 C403.7,31.8 412.1,34.5 420,38.5 C427.9,42.5 435,47.9 442.6,52.5 C446.2,54.7 449.8,56.8 453.4,58.8 C457.2,60.9 461.1,62.9 465,65 C468.9,67.1 472.9,69.2 476.8,71.4 C479.8,73.1 482.6,75.3 485.8,76.8 C489.5,78.6 493.7,79.5 497.4,81.3 C500.7,82.9 503.6,85.1 506.7,87" fill="none" stroke="#9479c8" stroke-width="1.05" stroke-dasharray="2.9,1.7"/>
<path d="M506.7,89.1 L504.6,85.4 L508.8,85.4 Z" fill="#9479c8"/>
<path d="M495.9,82.8 L493.8,79.1 L498,79.1 Z" fill="#9479c8"/>
<path d="M485.1,78.6 L483,74.9 L487.2,74.9 Z" fill="#9479c8"/>
<path d="M474.3,72.1 L472.2,68.4 L476.4,68.4 Z" fill="#9479c8"/>
<path d="M463.5,66.3 L461.4,62.6 L465.6,62.6 Z" fill="#9479c8"/>
<path d="M452.7,60.5 L450.6,56.8 L454.8,56.8 Z" fill="#9479c8"/>
<path d="M441.9,54.2 L439.8,50.5 L444,50.5 Z" fill="#9479c8"/>
<path d="M431.1,47.2 L429,43.5 L433.2,43.5 Z" fill="#9479c8"/>
<path d="M420.3,40.8 L418.2,37.1 L422.4,37.1 Z" fill="#9479c8"/>
<path d="M409.5,36 L407.4,32.3 L411.6,32.3 Z" fill="#9479c8"/>
<path d="M398.7,31.9 L396.6,28.2 L400.8,28.2 Z" fill="#9479c8"/>
<path d="M387.9,27.6 L385.8,23.9 L390,23.9 Z" fill="#9479c8"/>
<path d="M377.1,23.8 L375,20.1 L379.2,20.1 Z" fill="#9479c8"/>
<path d="M366.3,20.4 L364.2,16.7 L368.4,16.7 Z" fill="#9479c8"/>
<path d="M355.5,18.3 L353.4,14.6 L357.6,14.6 Z" fill="#9479c8"/>
<path d="M344.7,20.5 L342.6,16.8 L346.8,16.8 Z" fill="#9479c8"/>
<path d="M334,37.6 L334.5,37.9 L334.9,38.2 L335.4,38.5 L335.9,38.6 L336.4,38.7 L337.2,38.5 L337.9,38.2 L338.6,37.8 L339.3,37.4 L340,37 L341.5,36.1 L342.9,35.1 L344.3,34.1 L345.8,33.1 L347.3,32.3 L348.8,31.6 L350.4,31 L351.9,30.6 L353.5,30.3 L355.1,29.9 L356.8,29.6 L358.5,29.4 L360.2,29.1 L361.9,29 L363.6,28.9 L366.9,28.8 L370.2,28.7 L373.4,28.7 L376.7,28.8 L380,28.9 L383.1,29 L386.2,29.2 L389.3,29.5 L392.4,29.8 L395.5,30.2 L399,30.9 L402.4,31.7 L405.8,32.6 L409.2,33.4 L412.6,34.3 L416.2,35.1 L419.9,36 L423.5,36.8 L427.2,37.6 L430.8,38.4 L435.6,39.4 L440.5,40.4 L445.4,41.3 L450.2,42.4 L455,43.5 L460,44.7 L465,46.1 L470,47.5 L475,49 L480,50.4 L487,52.3 L494,54.3 L501,56.2 L508,58.1 L515,60.1 L519.9,61.6 L524.8,63.2 L529.7,64.9 L534.6,66.5 L539.5,68.2 L539.5,87.2 L534.6,84.9 L529.7,82.6 L524.8,80.3 L519.9,78.1 L515,75.9 L508,73.1 L501,70.3 L494,67.7 L487,65.2 L480,62.6 L475,60.7 L470,58.9 L465,57 L460,55.2 L455,53.5 L450.2,52.2 L445.4,51 L440.5,49.9 L435.6,48.7 L430.8,47.6 L427.2,46.6 L423.5,45.7 L419.9,44.7 L416.2,43.7 L412.6,42.7 L409.2,41.8 L405.8,40.8 L402.4,39.8 L399,38.9 L395.5,38.2 L392.4,37.6 L389.3,37.3 L386.2,36.9 L383.1,36.7 L380,36.5 L376.7,36.3 L373.4,36.2 L370.2,36.1 L366.9,36.1 L363.6,36.1 L361.9,36.2 L360.2,36.3 L358.5,36.5 L356.8,36.8 L355.1,37.1 L353.5,37.3 L351.9,37.6 L350.4,38 L348.8,38.3 L347.3,38.7 L345.8,39.3 L344.3,39.9 L342.9,40.7 L341.5,41.4 L340,42 L339.3,42.3 L338.6,42.6 L337.9,42.8 L337.2,42.9 L336.4,42.9 L335.9,42.8 L335.4,42.5 L334.9,42.2 L334.5,41.9 L334,41.6 Z" fill="#f7a3aa" fill-opacity="0.55"/>
<path d="M323.1,102.5 C324.5,101 326.8,100 327.4,98 C329.1,92.2 329.1,86 329.7,80 C330.6,70 331.1,60 331.8,50 C332.1,46 331.7,41.9 332.5,38 C332.6,37.4 333.5,38.5 334,38.8 C334.8,39.2 335.5,40 336.4,40 C337.7,40 338.9,39.2 340,38.6 C342.5,37.3 344.7,35.5 347.3,34.5 C349.8,33.5 352.5,33 355.1,32.5 C357.9,32 360.7,31.5 363.6,31.4 C369.1,31.2 374.5,31.3 380,31.6 C385.2,31.9 390.4,32.2 395.5,33 C401.3,34 406.9,35.6 412.6,37 C418.7,38.5 424.7,40.3 430.8,41.6 C438.8,43.3 447.1,44 455,46.2 C463.5,48.5 471.5,52.4 480,55 C491.6,58.5 503.4,61.2 515,64.5 C523.2,66.8 531.3,69.5 539.5,72" fill="none" stroke="#f46a70" stroke-width="1.2"/>
<path d="M334,39.6 C334.8,40 335.5,40.8 336.4,40.8 C337.7,40.8 338.9,40.1 340,39.5 C342.5,38.3 344.7,36.5 347.3,35.5 C349.8,34.5 352.5,34 355.1,33.5 C357.9,33 360.7,32.6 363.6,32.5 C369.1,32.3 374.5,32.4 380,32.7 C385.2,33 390.4,33.3 395.5,34.2 C401.3,35.2 406.9,37.1 412.6,38.5 C418.7,40 424.7,41.6 430.8,43 C438.9,44.9 447,46.3 455,48.5 C463.4,50.8 471.7,53.8 480,56.5 C491.7,60.3 503.4,63.9 515,68 C523.3,70.9 531.3,74.5 539.5,77.7" fill="none" stroke="#f46a70" stroke-width="1.05" stroke-dasharray="2.9,1.7"/>
<path d="M539.5,75.6 L537.4,79.3 L541.6,79.3 Z" fill="#f46a70"/>
<path d="M528.7,71.2 L526.6,74.9 L530.8,74.9 Z" fill="#f46a70"/>
<path d="M517.9,66.9 L515.8,70.6 L520,70.6 Z" fill="#f46a70"/>
<path d="M507.1,63.1 L505,66.8 L509.2,66.8 Z" fill="#f46a70"/>
<path d="M496.3,59.6 L494.2,63.3 L498.4,63.3 Z" fill="#f46a70"/>
<path d="M485.5,56.1 L483.4,59.8 L487.6,59.8 Z" fill="#f46a70"/>
<path d="M474.7,52.6 L472.6,56.3 L476.8,56.3 Z" fill="#f46a70"/>
<path d="M463.9,49 L461.8,52.7 L466,52.7 Z" fill="#f46a70"/>
<path d="M453.1,45.9 L451,49.6 L455.2,49.6 Z" fill="#f46a70"/>
<path d="M442.3,43.4 L440.2,47.1 L444.4,47.1 Z" fill="#f46a70"/>
<path d="M431.5,41 L429.4,44.7 L433.6,44.7 Z" fill="#f46a70"/>
<path d="M420.7,38.4 L418.6,42.1 L422.8,42.1 Z" fill="#f46a70"/>
<path d="M409.9,35.7 L407.8,39.4 L412,39.4 Z" fill="#f46a70"/>
<path d="M399.1,32.8 L397,36.5 L401.2,36.5 Z" fill="#f46a70"/>
<path d="M388.3,31.1 L386.2,34.8 L390.4,34.8 Z" fill="#f46a70"/>
<path d="M377.5,30.5 L375.4,34.2 L379.6,34.2 Z" fill="#f46a70"/>
<path d="M366.7,30.3 L364.6,34 L368.8,34 Z" fill="#f46a70"/>
<path d="M355.9,31.2 L353.8,34.9 L358,34.9 Z" fill="#f46a70"/>
<path d="M345.1,34.4 L343,38.1 L347.2,38.1 Z" fill="#f46a70"/>
<path d="M333.2,56 L334,54.9 L334.7,53.8 L335.5,52.6 L336.3,51.5 L337.2,50.4 L338.1,49.5 L339.3,48.4 L340.5,47.5 L341.8,46.6 L343.1,45.8 L344.5,45 L345.9,44.4 L347.4,43.7 L348.9,43.2 L350.4,42.7 L352,42.3 L353.5,42 L355.1,41.8 L358.4,41.4 L361.7,41.1 L365,41 L368.4,40.8 L371.7,40.8 L375,40.7 L378.4,40.7 L381.8,40.8 L385.3,40.9 L388.7,41.1 L392.1,41.3 L395.5,41.5 L398.4,41.7 L401.2,42 L404.1,42.3 L406.9,42.6 L409.8,43 L412.6,43.4 L415.6,43.9 L418.7,44.5 L421.7,45.1 L424.7,45.7 L427.8,46.2 L430.8,46.7 L434.8,47.3 L438.9,47.8 L442.9,48.2 L446.9,48.6 L451,49.1 L455,49.6 L459.2,50.2 L463.3,50.8 L467.5,51.5 L471.7,52.2 L475.8,52.8 L480,53.5 L485.8,54.4 L491.7,55.3 L497.5,56.3 L503.3,57.2 L509.2,58.1 L515,59.1 L519.1,59.8 L523.2,60.6 L527.3,61.3 L531.3,62.1 L535.4,62.8 L539.5,63.6 L539.5,75.6 L535.4,74.6 L531.3,73.7 L527.3,72.7 L523.2,71.7 L519.1,70.8 L515,69.9 L509.2,68.6 L503.3,67.4 L497.5,66.1 L491.7,64.9 L485.8,63.7 L480,62.5 L475.8,61.6 L471.7,60.7 L467.5,59.9 L463.3,59 L459.2,58.2 L455,57.4 L451,56.7 L446.9,56 L442.9,55.3 L438.9,54.7 L434.8,54 L430.8,53.3 L427.8,52.6 L424.7,51.9 L421.7,51.2 L418.7,50.5 L415.6,49.8 L412.6,49.2 L409.8,48.7 L406.9,48.3 L404.1,47.9 L401.2,47.5 L398.4,47.2 L395.5,46.9 L392.1,46.6 L388.7,46.3 L385.3,46.1 L381.8,45.9 L378.4,45.8 L375,45.7 L371.7,45.6 L368.4,45.6 L365,45.7 L361.7,45.8 L358.4,46 L355.1,46.2 L353.5,46.4 L352,46.7 L350.4,47.1 L348.9,47.5 L347.4,48 L345.9,48.6 L344.5,49.3 L343.1,50 L341.8,50.8 L340.5,51.6 L339.3,52.5 L338.1,53.5 L337.2,54.5 L336.3,55.5 L335.5,56.6 L334.7,57.8 L334,58.9 L333.2,60 Z" fill="#5cc6ee" fill-opacity="0.6"/>
<path d="M323.1,102.5 C324.5,101 326.7,99.9 327.4,98 C328.9,93.9 328.9,89.3 329.5,85 C330.6,77.3 331.5,69.7 332.5,62 C332.7,60.5 332.5,58.9 333.2,57.5 C334.4,54.9 336,52.5 338.1,50.5 C340.3,48.4 343.1,46.7 345.9,45.4 C348.8,44.1 351.9,43.2 355.1,42.8 C361.7,42 368.4,42 375,42 C381.8,42 388.7,42.5 395.5,43 C401.2,43.5 406.9,44.1 412.6,45 C418.7,46 424.7,47.5 430.8,48.5 C438.8,49.8 447,50.7 455,52 C463.4,53.4 471.7,55 480,56.5 C491.7,58.5 503.4,60.4 515,62.5 C523.2,64 531.3,65.6 539.5,67.2" fill="none" stroke="#1a87c3" stroke-width="1.2"/>
<path d="M333.2,58 C334.8,55.8 336.1,53.3 338.1,51.5 C340.4,49.4 343.1,47.7 345.9,46.5 C348.8,45.2 351.9,44.4 355.1,44 C361.7,43.3 368.4,43.2 375,43.2 C381.8,43.2 388.7,43.6 395.5,44.2 C401.2,44.7 406.9,45.4 412.6,46.3 C418.7,47.3 424.7,49 430.8,50 C438.8,51.4 447,52.2 455,53.5 C463.4,54.9 471.7,56.5 480,58 C491.7,60.1 503.4,62.2 515,64.5 C523.2,66.1 531.3,67.9 539.5,69.6" fill="none" stroke="#1a87c3" stroke-width="1.05" stroke-dasharray="2.9,1.7"/>
<rect x="538.1" y="68.2" width="2.9" height="2.9" fill="#1a87c3"/>
<rect x="527.3" y="65.9" width="2.9" height="2.9" fill="#1a87c3"/>
<rect x="516.5" y="63.6" width="2.9" height="2.9" fill="#1a87c3"/>
<rect x="505.7" y="61.5" width="2.9" height="2.9" fill="#1a87c3"/>
<rect x="494.9" y="59.5" width="2.9" height="2.9" fill="#1a87c3"/>
<rect x="484.1" y="57.6" width="2.9" height="2.9" fill="#1a87c3"/>
<rect x="473.3" y="55.6" width="2.9" height="2.9" fill="#1a87c3"/>
<rect x="462.5" y="53.6" width="2.9" height="2.9" fill="#1a87c3"/>
<rect x="451.7" y="51.8" width="2.9" height="2.9" fill="#1a87c3"/>
<rect x="440.9" y="50.2" width="2.9" height="2.9" fill="#1a87c3"/>
<rect x="430.1" y="48.7" width="2.9" height="2.9" fill="#1a87c3"/>
<rect x="419.3" y="46.5" width="2.9" height="2.9" fill="#1a87c3"/>
<rect x="408.5" y="44.4" width="2.9" height="2.9" fill="#1a87c3"/>
<rect x="397.7" y="43.1" width="2.9" height="2.9" fill="#1a87c3"/>
<rect x="386.9" y="42.2" width="2.9" height="2.9" fill="#1a87c3"/>
<rect x="376.1" y="41.8" width="2.9" height="2.9" fill="#1a87c3"/>
<rect x="365.3" y="41.8" width="2.9" height="2.9" fill="#1a87c3"/>
<rect x="354.5" y="42.5" width="2.9" height="2.9" fill="#1a87c3"/>
<rect x="343.7" y="45.4" width="2.9" height="2.9" fill="#1a87c3"/>
<path d="M323.1,102.5 L327.6,98.2" fill="none" stroke="#f46a70" stroke-width="1.3"/>
<path d="M323.1,102.2 L327.2,97.8" fill="none" stroke="#9479c8" stroke-width="1.3"/>
<path d="M327.6,98 C328.3,93.7 329,89.3 329.6,85 C330.6,77.3 331.5,69.7 332.5,62" fill="none" stroke="#1a87c3" stroke-width="1.3"/>
<path d="M317.8,150.6 L322.4,105" fill="none" stroke="#f5862a" stroke-width="1.3"/>
<path d="M317.8,150.6 L322.4,105" fill="none" stroke="#1a87c3" stroke-width="1.3"/>
<path d="M317.7,150.6 L322.3,105" fill="none" stroke="#f46a70" stroke-width="1.3"/>
<path d="M317.6,150.6 L322.2,105" fill="none" stroke="#9479c8" stroke-width="1.3"/>
<path d="M317.6,102.6 L317.6,5 L544.4,5 L544.4,102.6 M317.6,105 L317.6,151.4 L544.4,151.4 L544.4,105" fill="none" stroke="#707070" stroke-width="1.4"/>
<line x1="315" y1="103.8" x2="320.2" y2="101.4" stroke="#444" stroke-width="0.9"/>
<line x1="315" y1="106.2" x2="320.2" y2="103.8" stroke="#444" stroke-width="0.9"/>
<line x1="541.8" y1="103.8" x2="547" y2="101.4" stroke="#444" stroke-width="0.9"/>
<line x1="541.8" y1="106.2" x2="547" y2="103.8" stroke="#444" stroke-width="0.9"/>
<line x1="317.6" y1="151.4" x2="317.6" y2="153.8" stroke="#707070" stroke-width="0.9"/>
<text x="317.6" y="163.2" font-family="Liberation Serif, serif" font-size="10" text-anchor="middle" fill="#222">0.00</text>
<line x1="338.7" y1="151.4" x2="338.7" y2="152.9" stroke="#505050" stroke-width="1"/>
<line x1="338.7" y1="5" x2="338.7" y2="6.5" stroke="#505050" stroke-width="1"/>
<line x1="359.8" y1="151.4" x2="359.8" y2="153.8" stroke="#505050" stroke-width="1"/>
<line x1="359.8" y1="5" x2="359.8" y2="7.3" stroke="#505050" stroke-width="1"/>
<text x="359.8" y="163.2" font-family="Liberation Serif, serif" font-size="10" text-anchor="middle" fill="#222">0.08</text>
<line x1="380.9" y1="151.4" x2="380.9" y2="152.9" stroke="#505050" stroke-width="1"/>
<line x1="380.9" y1="5" x2="380.9" y2="6.5" stroke="#505050" stroke-width="1"/>
<line x1="402" y1="151.4" x2="402" y2="153.8" stroke="#505050" stroke-width="1"/>
<line x1="402" y1="5" x2="402" y2="7.3" stroke="#505050" stroke-width="1"/>
<text x="402" y="163.2" font-family="Liberation Serif, serif" font-size="10" text-anchor="middle" fill="#222">0.16</text>
<line x1="423.1" y1="151.4" x2="423.1" y2="152.9" stroke="#505050" stroke-width="1"/>
<line x1="423.1" y1="5" x2="423.1" y2="6.5" stroke="#505050" stroke-width="1"/>
<line x1="444.2" y1="151.4" x2="444.2" y2="153.8" stroke="#505050" stroke-width="1"/>
<line x1="444.2" y1="5" x2="444.2" y2="7.3" stroke="#505050" stroke-width="1"/>
<text x="444.2" y="163.2" font-family="Liberation Serif, serif" font-size="10" text-anchor="middle" fill="#222">0.24</text>
<line x1="465.3" y1="151.4" x2="465.3" y2="152.9" stroke="#505050" stroke-width="1"/>
<line x1="465.3" y1="5" x2="465.3" y2="6.5" stroke="#505050" stroke-width="1"/>
<line x1="486.4" y1="151.4" x2="486.4" y2="153.8" stroke="#505050" stroke-width="1"/>
<line x1="486.4" y1="5" x2="486.4" y2="7.3" stroke="#505050" stroke-width="1"/>
<text x="486.4" y="163.2" font-family="Liberation Serif, serif" font-size="10" text-anchor="middle" fill="#222">0.32</text>
<line x1="507.5" y1="151.4" x2="507.5" y2="152.9" stroke="#505050" stroke-width="1"/>
<line x1="507.5" y1="5" x2="507.5" y2="6.5" stroke="#505050" stroke-width="1"/>
<line x1="528.6" y1="151.4" x2="528.6" y2="153.8" stroke="#505050" stroke-width="1"/>
<line x1="528.6" y1="5" x2="528.6" y2="7.3" stroke="#505050" stroke-width="1"/>
<text x="528.6" y="163.2" font-family="Liberation Serif, serif" font-size="10" text-anchor="middle" fill="#222">0.40</text>
<line x1="315.2" y1="150.6" x2="317.6" y2="150.6" stroke="#505050" stroke-width="1"/>
<line x1="542" y1="150.6" x2="544.4" y2="150.6" stroke="#505050" stroke-width="1"/>
<text x="313" y="153.5" font-family="Liberation Serif, serif" font-size="9.7" text-anchor="end" fill="#222">0</text>
<line x1="316.1" y1="132.9" x2="317.6" y2="132.9" stroke="#505050" stroke-width="1"/>
<line x1="542.9" y1="132.9" x2="544.4" y2="132.9" stroke="#505050" stroke-width="1"/>
<line x1="315.2" y1="115.1" x2="317.6" y2="115.1" stroke="#505050" stroke-width="1"/>
<line x1="542" y1="115.1" x2="544.4" y2="115.1" stroke="#505050" stroke-width="1"/>
<text x="313" y="118" font-family="Liberation Serif, serif" font-size="9.7" text-anchor="end" fill="#222">35</text>
<line x1="315.2" y1="92.3" x2="317.6" y2="92.3" stroke="#505050" stroke-width="1"/>
<line x1="542" y1="92.3" x2="544.4" y2="92.3" stroke="#505050" stroke-width="1"/>
<text x="313" y="95.2" font-family="Liberation Serif, serif" font-size="9.7" text-anchor="end" fill="#222">185</text>
<line x1="316.1" y1="74.4" x2="317.6" y2="74.4" stroke="#505050" stroke-width="1"/>
<line x1="542.9" y1="74.4" x2="544.4" y2="74.4" stroke="#505050" stroke-width="1"/>
<line x1="315.2" y1="56.4" x2="317.6" y2="56.4" stroke="#505050" stroke-width="1"/>
<line x1="542" y1="56.4" x2="544.4" y2="56.4" stroke="#505050" stroke-width="1"/>
<text x="313" y="59.3" font-family="Liberation Serif, serif" font-size="9.7" text-anchor="end" fill="#222">220</text>
<line x1="316.1" y1="38.5" x2="317.6" y2="38.5" stroke="#505050" stroke-width="1"/>
<line x1="542.9" y1="38.5" x2="544.4" y2="38.5" stroke="#505050" stroke-width="1"/>
<line x1="315.2" y1="20.5" x2="317.6" y2="20.5" stroke="#505050" stroke-width="1"/>
<line x1="542" y1="20.5" x2="544.4" y2="20.5" stroke="#505050" stroke-width="1"/>
<text x="313" y="23.4" font-family="Liberation Serif, serif" font-size="9.7" text-anchor="end" fill="#222">255</text>
<text x="431" y="176.7" font-family="Liberation Serif, serif" font-size="11.1" text-anchor="middle" fill="#222">True Strain</text>
<text transform="translate(295.1,78.2) rotate(-90)" font-family="Liberation Serif, serif" font-size="11.25" text-anchor="middle" fill="#222">True Stress (MPa)</text>
<text x="492.1" y="19.7" font-family="Liberation Serif, serif" font-size="8.6" fill="#222" style="stroke-width:0.4px">T = 950°C</text>
<text x="415.3" y="191.7" font-family="Liberation Serif, serif" font-size="12.1" text-anchor="middle" fill="#111">(<tspan font-weight="bold">b</tspan>)</text>
<text x="356.8" y="88.7" font-family="Liberation Serif, serif" font-size="8.7" fill="#222" style="stroke-width:0.4px">95% Confidence Interval</text>
<line x1="337" y1="101" x2="356.8" y2="101" stroke="#f5862a" stroke-width="1.3"/>
<line x1="358.2" y1="101" x2="379.1" y2="101" stroke="#f5862a" stroke-width="1.1" stroke-dasharray="2.9,1.7"/>
<circle cx="368.8" cy="101" r="1.8" fill="#f5862a"/>
<text x="379.9" y="104.8" font-family="Liberation Serif, serif" font-size="9" fill="#222" style="stroke-width:0.35px"><tspan font-style="italic" font-size="9.6">f</tspan><tspan font-size="7.6" dx="0.5" dy="2.3">δ</tspan><tspan dx="0.35" dy="-2.3"> = 0%</tspan></text>
<rect x="425" y="96" width="20" height="10" fill="#fcdcc4" stroke="#f6c29a" stroke-width="0.6"/>
<line x1="337" y1="113.9" x2="356.8" y2="113.9" stroke="#1a87c3" stroke-width="1.3"/>
<line x1="358.2" y1="113.9" x2="379.1" y2="113.9" stroke="#1a87c3" stroke-width="1.1" stroke-dasharray="2.9,1.7"/>
<rect x="367.4" y="112.5" width="2.8" height="2.8" fill="#1a87c3"/>
<text x="379.9" y="117.7" font-family="Liberation Serif, serif" font-size="9" fill="#222" style="stroke-width:0.35px"><tspan font-style="italic" font-size="9.6">f</tspan><tspan font-size="7.6" dx="0.5" dy="2.3">δ</tspan><tspan dx="0.35" dy="-2.3"> = 4.96%</tspan></text>
<rect x="425" y="108.9" width="20" height="10" fill="#a0e2f8" stroke="#52b5e0" stroke-width="0.6"/>
<line x1="337" y1="126.8" x2="356.8" y2="126.8" stroke="#f46a70" stroke-width="1.3"/>
<line x1="358.2" y1="126.8" x2="379.1" y2="126.8" stroke="#f46a70" stroke-width="1.1" stroke-dasharray="2.9,1.7"/>
<path d="M368.8,124.8 L366.7,128.4 L370.9,128.4 Z" fill="#f46a70"/>
<text x="379.9" y="130.7" font-family="Liberation Serif, serif" font-size="9" fill="#222" style="stroke-width:0.35px"><tspan font-style="italic" font-size="9.6">f</tspan><tspan font-size="7.6" dx="0.5" dy="2.3">δ</tspan><tspan dx="0.35" dy="-2.3"> = 7.80%</tspan></text>
<rect x="425" y="121.8" width="20" height="10" fill="#fcd3d6" stroke="#f4aab0" stroke-width="0.6"/>
<line x1="337" y1="139.8" x2="356.8" y2="139.8" stroke="#9479c8" stroke-width="1.3"/>
<line x1="358.2" y1="139.8" x2="379.1" y2="139.8" stroke="#9479c8" stroke-width="1.1" stroke-dasharray="2.9,1.7"/>
<path d="M368.8,141.9 L366.7,138.3 L370.9,138.3 Z" fill="#9479c8"/>
<text x="379.9" y="143.6" font-family="Liberation Serif, serif" font-size="9" fill="#222" style="stroke-width:0.35px"><tspan font-style="italic" font-size="9.6">f</tspan><tspan font-size="7.6" dx="0.5" dy="2.3">δ</tspan><tspan dx="0.35" dy="-2.3"> = 12.09%</tspan></text>
<rect x="425" y="134.8" width="20" height="10" fill="#d8cfea" stroke="#b9a8dc" stroke-width="0.6"/>
<path d="M47.2,268.5 L47.7,267.6 L48.1,266.6 L48.6,265.7 L49.1,264.8 L49.7,264 L50.3,263.5 L50.9,263 L51.6,262.6 L52.3,262.3 L53,261.9 L54.1,261.3 L55.3,260.6 L56.4,260 L57.6,259.4 L58.8,258.9 L60.8,258 L62.8,257.2 L64.8,256.4 L66.9,255.7 L68.9,255 L70.9,254.3 L73,253.7 L75.1,253.2 L77.1,252.7 L79.2,252.1 L82.9,251.2 L86.7,250.1 L90.5,249.2 L94.2,248.2 L98,247.4 L103.4,246.3 L108.8,245.3 L114.2,244.3 L119.6,243.5 L125,242.7 L129.3,242.1 L133.5,241.6 L137.8,241.2 L142.1,240.9 L146.4,240.5 L151.7,240 L157,239.6 L162.2,239.1 L167.5,238.7 L172.8,238.4 L178.1,238.1 L183.4,237.9 L188.6,237.7 L193.9,237.6 L199.2,237.7 L204.5,237.9 L209.7,238.1 L215,238.5 L220.3,239 L225.5,239.6 L232.4,240.6 L239.3,241.7 L246.1,243 L252.9,244.3 L259.8,245.5 L259.8,252.5 L252.9,251 L246.1,249.5 L239.3,248 L232.4,246.7 L225.5,245.4 L220.3,244.6 L215,244 L209.7,243.4 L204.5,243 L199.2,242.7 L193.9,242.5 L188.6,242.5 L183.4,242.5 L178.1,242.7 L172.8,242.8 L167.5,243 L162.2,243.3 L157,243.7 L151.7,244.1 L146.4,244.5 L142.1,244.8 L137.8,245.2 L133.5,245.6 L129.3,246 L125,246.5 L119.6,247.3 L114.2,248.2 L108.8,249.1 L103.4,250.1 L98,251.2 L94.2,252 L90.5,252.9 L86.7,253.9 L82.9,254.9 L79.2,255.9 L77.1,256.4 L75.1,256.9 L73,257.4 L70.9,258 L68.9,258.6 L66.9,259.3 L64.8,260.1 L62.8,260.9 L60.8,261.7 L58.8,262.5 L57.6,263.1 L56.4,263.6 L55.3,264.2 L54.1,264.9 L53,265.5 L52.3,265.9 L51.6,266.2 L50.9,266.6 L50.3,267.1 L49.7,267.6 L49.1,268.4 L48.6,269.3 L48.1,270.2 L47.7,271.2 L47.2,272.1 Z" fill="#f9b98a" fill-opacity="0.55"/>
<path d="M42.4,294.5 C42.7,292.3 43.1,290.2 43.4,288 C43.9,284.5 44,281 44.7,277.5 C45.2,274.9 46.2,272.4 47.2,270 C47.9,268.4 48.6,266.7 49.7,265.4 C50.6,264.4 51.9,263.9 53,263.3 C54.9,262.2 56.8,261.2 58.8,260.3 C62.1,258.8 65.5,257.4 68.9,256.3 C72.3,255.2 75.8,254.4 79.2,253.5 C85.5,251.9 91.7,250.1 98,248.8 C106.9,247 116,245.4 125,244.1 C132.1,243.1 139.3,242.6 146.4,242 C155.2,241.2 164,240.5 172.8,240 C181.6,239.6 190.4,239.1 199.2,239.3 C208,239.5 216.8,240.2 225.5,241.2 C237,242.6 248.4,244.7 259.8,246.5" fill="none" stroke="#f5862a" stroke-width="1.2"/>
<path d="M47.2,270.3 C48,268.8 48.6,267.1 49.7,265.8 C50.6,264.8 51.9,264.3 53,263.7 C54.9,262.6 56.8,261.6 58.8,260.7 C62.1,259.3 65.5,257.9 68.9,256.8 C72.3,255.7 75.8,254.9 79.2,254 C85.5,252.4 91.7,250.6 98,249.3 C106.9,247.5 116,245.9 125,244.6 C132.1,243.6 139.3,243.1 146.4,242.5 C155.2,241.8 164,241 172.8,240.6 C181.6,240.2 190.4,239.9 199.2,240.2 C208,240.5 216.8,241.2 225.5,242.5 C237,244.2 248.4,246.8 259.8,249" fill="none" stroke="#f5862a" stroke-width="1.05" stroke-dasharray="2.9,1.7"/>
<circle cx="259.8" cy="249" r="1.9" fill="#f5862a"/>
<circle cx="249" cy="246.8" r="1.9" fill="#f5862a"/>
<circle cx="238.2" cy="244.7" r="1.9" fill="#f5862a"/>
<circle cx="227.4" cy="242.8" r="1.9" fill="#f5862a"/>
<circle cx="216.6" cy="241.4" r="1.9" fill="#f5862a"/>
<circle cx="205.8" cy="240.5" r="1.9" fill="#f5862a"/>
<circle cx="195" cy="240.1" r="1.9" fill="#f5862a"/>
<circle cx="184.2" cy="240.2" r="1.9" fill="#f5862a"/>
<circle cx="173.4" cy="240.6" r="1.9" fill="#f5862a"/>
<circle cx="162.6" cy="241.2" r="1.9" fill="#f5862a"/>
<circle cx="151.8" cy="242" r="1.9" fill="#f5862a"/>
<circle cx="141" cy="242.9" r="1.9" fill="#f5862a"/>
<circle cx="130.2" cy="244" r="1.9" fill="#f5862a"/>
<circle cx="119.4" cy="245.4" r="1.9" fill="#f5862a"/>
<circle cx="108.6" cy="247.2" r="1.9" fill="#f5862a"/>
<circle cx="97.8" cy="249.3" r="1.9" fill="#f5862a"/>
<circle cx="87" cy="251.9" r="1.9" fill="#f5862a"/>
<circle cx="76.2" cy="254.8" r="1.9" fill="#f5862a"/>
<circle cx="65.4" cy="258" r="1.9" fill="#f5862a"/>
<circle cx="54.6" cy="262.8" r="1.9" fill="#f5862a"/>
<path d="M50.3,210 L50.8,209.3 L51.3,208.6 L51.8,208 L52.4,207.4 L53,207 L53.6,206.7 L54.3,206.5 L55,206.3 L55.9,206 L56.8,205.8 L57.7,205.7 L58.6,205.6 L61.2,205.7 L63.8,205.8 L66.3,205.9 L68.9,206.2 L71.5,206.5 L74.1,206.8 L76.6,207.2 L79.2,207.6 L83.9,208.3 L88.6,209 L93.3,209.7 L98,210.5 L99.6,210.7 L101.2,210.9 L102.8,211.2 L104.4,211.6 L108.3,212.8 L112.2,214.2 L116.1,215.6 L120,217 L126.6,219.5 L133.2,222.1 L139.8,224.8 L146.4,227.5 L153.6,230.6 L160.8,233.9 L167.9,237.1 L175.1,240.2 L177.7,241.3 L180.3,242.3 L182.9,243.4 L185.4,244.5 L188,245.7 L190.6,247.1 L193.1,248.4 L195.7,249.7 L198.4,251 L201.2,252.1 L203.9,253.3 L206.6,254.6 L209.2,255.9 L211.8,257.3 L214.3,258.6 L216.9,260 L219.6,261.4 L222.4,262.8 L225.1,264.1 L227.8,265.5 L230.4,267 L233,268.5 L235.5,270 L238.1,271.5 L238.1,282.1 L235.5,280.4 L233,278.7 L230.4,277.1 L227.8,275.5 L225.1,273.9 L222.4,272.3 L219.6,270.8 L216.9,269.2 L214.3,267.6 L211.8,266.1 L209.2,264.5 L206.6,263 L203.9,261.6 L201.2,260.2 L198.4,258.9 L195.7,257.5 L193.1,256 L190.6,254.5 L188,253 L185.4,251.5 L182.9,250.2 L180.3,249 L177.7,247.8 L175.1,246.6 L167.9,243.1 L160.8,239.9 L153.6,236.6 L146.4,233.5 L139.8,230.8 L133.2,228.1 L126.6,225.5 L120,223 L116.1,221.5 L112.2,220.1 L108.3,218.7 L104.4,217.4 L102.8,217 L101.2,216.7 L99.6,216.4 L98,216.1 L93.3,215.3 L88.6,214.5 L83.9,213.8 L79.2,213 L76.6,212.6 L74.1,212.2 L71.5,211.8 L68.9,211.4 L66.3,211.2 L63.8,211 L61.2,210.8 L58.6,210.8 L57.7,210.8 L56.8,210.9 L55.9,211.1 L55,211.3 L54.3,211.5 L53.6,211.8 L53,212 L52.4,212.4 L51.8,213 L51.3,213.6 L50.8,214.3 L50.3,215 Z" fill="#b7a5dc" fill-opacity="0.58"/>
<path d="M40.3,294.5 C40.8,290.3 41.3,286.2 41.7,282 C42.2,277 42.6,272 43,267 C43.6,259.3 43.9,251.7 44.5,244 C45,238.3 45.5,232.6 46.3,227 C46.8,223.2 47.4,219.5 48.3,215.8 C48.7,214.3 49.5,212.9 50.3,211.5 C50.9,210.5 51.5,209.6 52.4,208.9 C53.1,208.3 54.1,208 55,207.8 C56.2,207.5 57.4,207.2 58.6,207.2 C62,207.2 65.5,207.5 68.9,207.8 C72.4,208.2 75.8,208.8 79.2,209.3 C85.5,210.3 91.7,211.3 98,212.3 C100.1,212.7 102.3,212.9 104.4,213.5 C109.7,215 114.9,216.7 120,218.5 C128.9,221.7 137.7,225 146.4,228.5 C155.3,232 164,235.7 172.8,239.5 C176.2,241 179.5,242.6 182.9,244.2 C188.3,246.8 193.7,249.5 199.2,252 C202.3,253.4 205.5,254.6 208.6,256 C212.4,257.8 216.2,259.6 220,261.5 C226.1,264.6 232.1,267.8 238.1,271" fill="none" stroke="#9479c8" stroke-width="1.2"/>
<path d="M50.3,212.5 C51,211.6 51.5,210.6 52.4,209.9 C53.1,209.3 54.1,209 55,208.8 C56.2,208.5 57.4,208.2 58.6,208.2 C62,208.2 65.5,208.5 68.9,208.8 C72.4,209.2 75.8,209.8 79.2,210.3 C85.5,211.3 91.7,212.3 98,213.3 C100.1,213.7 102.3,213.9 104.4,214.5 C109.7,216.1 114.8,218 120,220 C128.9,223.4 137.7,226.8 146.4,230.5 C156.1,234.6 165.5,239.1 175.1,243.4 C178.5,244.9 182,246.3 185.4,248 C188.9,249.7 192.2,251.8 195.7,253.6 C199.3,255.4 203,256.9 206.6,258.8 C210.1,260.6 213.5,262.7 216.9,264.6 C220.5,266.6 224.2,268.4 227.8,270.5 C231.3,272.5 234.7,274.7 238.1,276.8" fill="none" stroke="#9479c8" stroke-width="1.05" stroke-dasharray="2.9,1.7"/>
<path d="M238.1,278.9 L236,275.2 L240.2,275.2 Z" fill="#9479c8"/>
<path d="M227.3,272.3 L225.2,268.6 L229.4,268.6 Z" fill="#9479c8"/>
<path d="M216.5,266.5 L214.4,262.8 L218.6,262.8 Z" fill="#9479c8"/>
<path d="M205.7,260.5 L203.6,256.8 L207.8,256.8 Z" fill="#9479c8"/>
<path d="M194.9,255.3 L192.8,251.6 L197,251.6 Z" fill="#9479c8"/>
<path d="M184.1,249.5 L182,245.8 L186.2,245.8 Z" fill="#9479c8"/>
<path d="M173.3,244.7 L171.2,241 L175.4,241 Z" fill="#9479c8"/>
<path d="M162.5,239.8 L160.4,236.1 L164.6,236.1 Z" fill="#9479c8"/>
<path d="M151.7,234.9 L149.6,231.2 L153.8,231.2 Z" fill="#9479c8"/>
<path d="M140.9,230.3 L138.8,226.6 L143,226.6 Z" fill="#9479c8"/>
<path d="M130.1,226 L128,222.3 L132.2,222.3 Z" fill="#9479c8"/>
<path d="M119.3,221.9 L117.2,218.2 L121.4,218.2 Z" fill="#9479c8"/>
<path d="M108.5,217.9 L106.4,214.2 L110.6,214.2 Z" fill="#9479c8"/>
<path d="M97.7,215.4 L95.6,211.7 L99.8,211.7 Z" fill="#9479c8"/>
<path d="M86.9,213.6 L84.8,209.9 L89,209.9 Z" fill="#9479c8"/>
<path d="M76.1,211.9 L74,208.2 L78.2,208.2 Z" fill="#9479c8"/>
<path d="M65.3,210.6 L63.2,206.9 L67.4,206.9 Z" fill="#9479c8"/>
<path d="M54.5,211.1 L52.4,207.4 L56.6,207.4 Z" fill="#9479c8"/>
<path d="M49.3,227.7 L49.6,227.2 L50,226.7 L50.3,226.1 L50.6,225.6 L51,225.1 L51.4,224.7 L51.9,224.3 L52.3,224 L52.9,223.7 L53.4,223.4 L53.9,223.2 L54.5,223.1 L55.5,222.9 L56.5,222.8 L57.5,222.7 L58.5,222.6 L59.5,222.6 L60.5,222.5 L64,222.4 L67.4,222.3 L70.9,222.2 L74.4,222.2 L77.8,222.1 L81.3,222 L85.2,221.9 L89,221.8 L92.9,221.7 L96.7,221.6 L100.6,221.6 L104.4,221.6 L107,221.7 L109.6,221.9 L112.2,222.1 L114.8,222.3 L117.4,222.6 L120,222.8 L124.4,223.4 L128.8,223.9 L133.2,224.5 L137.6,225.1 L142,225.8 L146.4,226.5 L150.8,227.4 L155.2,228.2 L159.6,229.2 L164,230.1 L168.4,231.1 L172.8,232 L177.2,233 L181.6,233.8 L186,234.7 L190.4,235.7 L194.8,236.7 L199.2,237.7 L203.6,238.9 L208,240.1 L212.4,241.4 L216.8,242.7 L221.1,244 L225.5,245.4 L231.2,247.1 L236.9,248.9 L242.7,250.6 L248.4,252.4 L254.1,254.2 L259.8,256 L259.8,266 L254.1,263.9 L248.4,261.9 L242.7,259.8 L236.9,257.7 L231.2,255.7 L225.5,253.6 L221.1,252.1 L216.8,250.5 L212.4,249 L208,247.5 L203.6,246.1 L199.2,244.7 L194.8,243.4 L190.4,242.3 L186,241.2 L181.6,240.1 L177.2,239 L172.8,238 L168.4,236.8 L164,235.7 L159.6,234.5 L155.2,233.4 L150.8,232.4 L146.4,231.5 L142,230.7 L137.6,230 L133.2,229.3 L128.8,228.7 L124.4,228.1 L120,227.5 L117.4,227.2 L114.8,226.9 L112.2,226.7 L109.6,226.5 L107,226.3 L104.4,226.2 L100.6,226.1 L96.7,226.1 L92.9,226.1 L89,226.2 L85.2,226.3 L81.3,226.4 L77.8,226.4 L74.4,226.4 L70.9,226.5 L67.4,226.5 L64,226.6 L60.5,226.7 L59.5,226.7 L58.5,226.7 L57.5,226.7 L56.5,226.8 L55.5,226.9 L54.5,227.1 L53.9,227.3 L53.4,227.5 L52.9,227.7 L52.3,228 L51.9,228.3 L51.4,228.7 L51,229.1 L50.6,229.6 L50.3,230.1 L50,230.7 L49.6,231.2 L49.3,231.7 Z" fill="#f7a3aa" fill-opacity="0.55"/>
<path d="M41.2,294.5 C41.6,291 42.2,287.5 42.5,284 C43,278.7 43.3,273.3 43.8,268 C44.3,262.6 44.9,257.1 45.5,251.7 C45.9,248 46.4,244.2 47,240.5 C47.4,238 47.9,235.5 48.6,233 C49.1,231.4 49.7,229.8 50.5,228.4 C51,227.5 51.7,226.7 52.5,226 C53.1,225.5 53.7,225 54.5,224.8 C56.5,224.3 58.5,224.2 60.5,224.1 C63.3,223.9 66.1,224 68.9,223.9 C73,223.8 77.2,223.8 81.3,223.7 C89,223.6 96.7,223.2 104.4,223.4 C109.6,223.5 114.8,224 120,224.6 C128.8,225.6 137.7,226.4 146.4,228 C155.3,229.6 164,232 172.8,234 C181.6,236 190.5,237.6 199.2,239.9 C208.1,242.2 216.7,245.1 225.5,247.8 C236.9,251.3 248.4,254.8 259.8,258.3" fill="none" stroke="#f46a70" stroke-width="1.2"/>
<path d="M49.3,229.7 C50,228.7 50.5,227.5 51.4,226.7 C52.3,225.9 53.4,225.4 54.5,225.1 C56.5,224.6 58.5,224.7 60.5,224.6 C67.4,224.4 74.4,224.3 81.3,224.2 C89,224.1 96.7,223.7 104.4,223.9 C109.6,224 114.8,224.6 120,225.2 C128.8,226.3 137.7,227.4 146.4,229 C155.3,230.6 164,233 172.8,235 C181.6,237 190.5,238.8 199.2,241.2 C208.1,243.6 216.8,246.6 225.5,249.5 C237,253.2 248.4,257.2 259.8,261" fill="none" stroke="#f46a70" stroke-width="1.05" stroke-dasharray="2.9,1.7"/>
<path d="M259.8,258.9 L257.7,262.6 L261.9,262.6 Z" fill="#f46a70"/>
<path d="M249,255.2 L246.9,258.9 L251.1,258.9 Z" fill="#f46a70"/>
<path d="M238.2,251.6 L236.1,255.3 L240.3,255.3 Z" fill="#f46a70"/>
<path d="M227.4,248 L225.3,251.7 L229.5,251.7 Z" fill="#f46a70"/>
<path d="M216.6,244.4 L214.5,248.1 L218.7,248.1 Z" fill="#f46a70"/>
<path d="M205.8,241 L203.7,244.7 L207.9,244.7 Z" fill="#f46a70"/>
<path d="M195,238 L192.9,241.7 L197.1,241.7 Z" fill="#f46a70"/>
<path d="M184.2,235.4 L182.1,239.1 L186.3,239.1 Z" fill="#f46a70"/>
<path d="M173.4,233 L171.3,236.7 L175.5,236.7 Z" fill="#f46a70"/>
<path d="M162.6,230.4 L160.5,234.1 L164.7,234.1 Z" fill="#f46a70"/>
<path d="M151.8,228 L149.7,231.7 L153.9,231.7 Z" fill="#f46a70"/>
<path d="M141,225.9 L138.9,229.6 L143.1,229.6 Z" fill="#f46a70"/>
<path d="M130.2,224.4 L128.1,228.1 L132.3,228.1 Z" fill="#f46a70"/>
<path d="M119.4,223 L117.3,226.7 L121.5,226.7 Z" fill="#f46a70"/>
<path d="M108.6,222 L106.5,225.7 L110.7,225.7 Z" fill="#f46a70"/>
<path d="M97.8,221.7 L95.7,225.4 L99.9,225.4 Z" fill="#f46a70"/>
<path d="M87,221.9 L84.9,225.6 L89.1,225.6 Z" fill="#f46a70"/>
<path d="M76.2,222.1 L74.1,225.8 L78.3,225.8 Z" fill="#f46a70"/>
<path d="M65.4,222.3 L63.3,226 L67.5,226 Z" fill="#f46a70"/>
<path d="M54.6,222.9 L52.5,226.6 L56.7,226.6 Z" fill="#f46a70"/>
<path d="M50.5,241.5 L51.2,240.9 L51.9,240.2 L52.5,239.5 L53.2,238.9 L53.9,238.3 L54.7,237.8 L55.5,237.3 L56.3,236.9 L57.1,236.5 L58,236.2 L58.8,236 L59.7,235.8 L61.2,235.5 L62.7,235.3 L64.3,235.2 L65.8,235.1 L67.4,235 L68.9,234.9 L71,234.8 L73,234.7 L75.1,234.6 L77.2,234.6 L79.2,234.5 L81.3,234.3 L84.1,234.1 L86.9,233.8 L89.6,233.5 L92.4,233.2 L95.2,233 L98,232.8 L101.7,232.6 L105.3,232.4 L109,232.3 L112.7,232.2 L116.3,232.1 L120,232.2 L124.4,232.2 L128.8,232.3 L133.2,232.4 L137.6,232.6 L142,232.8 L146.4,233.1 L150.8,233.5 L155.2,234 L159.6,234.5 L164,235.1 L168.4,235.7 L172.8,236.3 L177.2,236.8 L181.6,237.4 L186,238 L190.4,238.6 L194.8,239.3 L199.2,240 L203.6,240.7 L208,241.4 L212.4,242.2 L216.8,243 L221.1,243.8 L225.5,244.7 L231.2,245.8 L237,247 L242.7,248.3 L248.4,249.5 L254.1,250.8 L259.8,252 L259.8,262 L254.1,260.5 L248.4,258.9 L242.7,257.4 L237,255.9 L231.2,254.4 L225.5,252.9 L221.1,251.9 L216.8,250.8 L212.4,249.8 L208,248.8 L203.6,247.9 L199.2,247 L194.8,246.2 L190.4,245.5 L186,244.7 L181.6,244.1 L177.2,243.4 L172.8,242.7 L168.4,242.1 L164,241.4 L159.6,240.7 L155.2,240.1 L150.8,239.5 L146.4,239.1 L142,238.7 L137.6,238.4 L133.2,238.2 L128.8,238.1 L124.4,237.9 L120,237.8 L116.3,237.8 L112.7,237.8 L109,237.9 L105.3,238 L101.7,238.1 L98,238.2 L95.2,238.4 L92.4,238.6 L89.6,238.9 L86.9,239.2 L84.1,239.4 L81.3,239.7 L79.2,239.8 L77.2,239.8 L75.1,239.9 L73,239.9 L71,240 L68.9,240.1 L67.4,240.2 L65.8,240.2 L64.3,240.3 L62.7,240.4 L61.2,240.6 L59.7,240.8 L58.8,241 L58,241.3 L57.1,241.6 L56.3,242 L55.5,242.4 L54.7,242.8 L53.9,243.3 L53.2,243.9 L52.5,244.6 L51.9,245.2 L51.2,245.9 L50.5,246.5 Z" fill="#5cc6ee" fill-opacity="0.6"/>
<path d="M43.6,294.5 C43.8,292.7 44.1,290.8 44.3,289 C44.7,285.7 45.1,282.3 45.5,279 C46.2,272.7 47,266.3 47.7,260 C48.1,256.5 48.2,253 48.8,249.5 C49.2,247.3 49.4,244.9 50.5,243 C51.4,241.4 53.1,240.4 54.7,239.4 C56.2,238.5 57.9,237.7 59.7,237.4 C62.7,236.8 65.8,236.8 68.9,236.6 C73,236.3 77.2,236.3 81.3,236 C86.9,235.6 92.4,234.8 98,234.5 C105.3,234.1 112.7,233.9 120,234 C128.8,234.1 137.6,234.4 146.4,235.1 C155.2,235.9 164,237.3 172.8,238.5 C181.6,239.7 190.4,241 199.2,242.5 C208,244.1 216.8,245.9 225.5,247.8 C237,250.3 248.4,253.1 259.8,255.7" fill="none" stroke="#1a87c3" stroke-width="1.2"/>
<path d="M50.5,244 C51.9,242.8 53.1,241.3 54.7,240.3 C56.2,239.4 57.9,238.6 59.7,238.3 C62.7,237.7 65.8,237.7 68.9,237.5 C73,237.3 77.2,237.3 81.3,237 C86.9,236.6 92.4,235.8 98,235.5 C105.3,235.1 112.7,234.9 120,235 C128.8,235.1 137.6,235.4 146.4,236.1 C155.2,236.9 164,238.3 172.8,239.5 C181.6,240.7 190.4,242 199.2,243.5 C208,245.1 216.8,246.9 225.5,248.8 C237,251.4 248.4,254.3 259.8,257" fill="none" stroke="#1a87c3" stroke-width="1.05" stroke-dasharray="2.9,1.7"/>
<rect x="258.4" y="255.6" width="2.9" height="2.9" fill="#1a87c3"/>
<rect x="247.6" y="252.9" width="2.9" height="2.9" fill="#1a87c3"/>
<rect x="236.8" y="250.3" width="2.9" height="2.9" fill="#1a87c3"/>
<rect x="226" y="247.8" width="2.9" height="2.9" fill="#1a87c3"/>
<rect x="215.2" y="245.4" width="2.9" height="2.9" fill="#1a87c3"/>
<rect x="204.4" y="243.3" width="2.9" height="2.9" fill="#1a87c3"/>
<rect x="193.6" y="241.3" width="2.9" height="2.9" fill="#1a87c3"/>
<rect x="182.8" y="239.7" width="2.9" height="2.9" fill="#1a87c3"/>
<rect x="172" y="238.1" width="2.9" height="2.9" fill="#1a87c3"/>
<rect x="161.2" y="236.6" width="2.9" height="2.9" fill="#1a87c3"/>
<rect x="150.4" y="235.2" width="2.9" height="2.9" fill="#1a87c3"/>
<rect x="139.6" y="234.3" width="2.9" height="2.9" fill="#1a87c3"/>
<rect x="128.8" y="233.8" width="2.9" height="2.9" fill="#1a87c3"/>
<rect x="118" y="233.6" width="2.9" height="2.9" fill="#1a87c3"/>
<rect x="107.2" y="233.6" width="2.9" height="2.9" fill="#1a87c3"/>
<rect x="96.4" y="234.1" width="2.9" height="2.9" fill="#1a87c3"/>
<rect x="85.6" y="235" width="2.9" height="2.9" fill="#1a87c3"/>
<rect x="74.8" y="235.8" width="2.9" height="2.9" fill="#1a87c3"/>
<rect x="64" y="236.2" width="2.9" height="2.9" fill="#1a87c3"/>
<rect x="53.2" y="238.9" width="2.9" height="2.9" fill="#1a87c3"/>
<path d="M38.3,342.3 L41,298" fill="none" stroke="#f46a70" stroke-width="1.3"/>
<path d="M38.4,342.3 L43.3,298" fill="none" stroke="#1a87c3" stroke-width="1.3"/>
<path d="M38.4,342.3 L42.2,298" fill="none" stroke="#f5862a" stroke-width="1.3"/>
<path d="M38.2,342.3 L40,298" fill="none" stroke="#9479c8" stroke-width="1.3"/>
<path d="M38.2,295.2 L38.2,196.4 L264.9,196.4 L264.9,295.2 M38.2,297.6 L38.2,342.4 L264.9,342.4 L264.9,297.6" fill="none" stroke="#707070" stroke-width="1.4"/>
<line x1="35.6" y1="296.4" x2="40.8" y2="294" stroke="#444" stroke-width="0.9"/>
<line x1="35.6" y1="298.8" x2="40.8" y2="296.4" stroke="#444" stroke-width="0.9"/>
<line x1="262.3" y1="296.4" x2="267.5" y2="294" stroke="#444" stroke-width="0.9"/>
<line x1="262.3" y1="298.8" x2="267.5" y2="296.4" stroke="#444" stroke-width="0.9"/>
<line x1="38.2" y1="342.4" x2="38.2" y2="344.8" stroke="#707070" stroke-width="0.9"/>
<text x="38.2" y="354.2" font-family="Liberation Serif, serif" font-size="10" text-anchor="middle" fill="#222">0.00</text>
<line x1="59.3" y1="342.4" x2="59.3" y2="343.9" stroke="#505050" stroke-width="1"/>
<line x1="59.3" y1="196.4" x2="59.3" y2="197.9" stroke="#505050" stroke-width="1"/>
<line x1="80.4" y1="342.4" x2="80.4" y2="344.8" stroke="#505050" stroke-width="1"/>
<line x1="80.4" y1="196.4" x2="80.4" y2="198.8" stroke="#505050" stroke-width="1"/>
<text x="80.4" y="354.2" font-family="Liberation Serif, serif" font-size="10" text-anchor="middle" fill="#222">0.08</text>
<line x1="101.5" y1="342.4" x2="101.5" y2="343.9" stroke="#505050" stroke-width="1"/>
<line x1="101.5" y1="196.4" x2="101.5" y2="197.9" stroke="#505050" stroke-width="1"/>
<line x1="122.6" y1="342.4" x2="122.6" y2="344.8" stroke="#505050" stroke-width="1"/>
<line x1="122.6" y1="196.4" x2="122.6" y2="198.8" stroke="#505050" stroke-width="1"/>
<text x="122.6" y="354.2" font-family="Liberation Serif, serif" font-size="10" text-anchor="middle" fill="#222">0.16</text>
<line x1="143.7" y1="342.4" x2="143.7" y2="343.9" stroke="#505050" stroke-width="1"/>
<line x1="143.7" y1="196.4" x2="143.7" y2="197.9" stroke="#505050" stroke-width="1"/>
<line x1="164.8" y1="342.4" x2="164.8" y2="344.8" stroke="#505050" stroke-width="1"/>
<line x1="164.8" y1="196.4" x2="164.8" y2="198.8" stroke="#505050" stroke-width="1"/>
<text x="164.8" y="354.2" font-family="Liberation Serif, serif" font-size="10" text-anchor="middle" fill="#222">0.24</text>
<line x1="185.9" y1="342.4" x2="185.9" y2="343.9" stroke="#505050" stroke-width="1"/>
<line x1="185.9" y1="196.4" x2="185.9" y2="197.9" stroke="#505050" stroke-width="1"/>
<line x1="207" y1="342.4" x2="207" y2="344.8" stroke="#505050" stroke-width="1"/>
<line x1="207" y1="196.4" x2="207" y2="198.8" stroke="#505050" stroke-width="1"/>
<text x="207" y="354.2" font-family="Liberation Serif, serif" font-size="10" text-anchor="middle" fill="#222">0.32</text>
<line x1="228.1" y1="342.4" x2="228.1" y2="343.9" stroke="#505050" stroke-width="1"/>
<line x1="228.1" y1="196.4" x2="228.1" y2="197.9" stroke="#505050" stroke-width="1"/>
<line x1="249.2" y1="342.4" x2="249.2" y2="344.8" stroke="#505050" stroke-width="1"/>
<line x1="249.2" y1="196.4" x2="249.2" y2="198.8" stroke="#505050" stroke-width="1"/>
<text x="249.2" y="354.2" font-family="Liberation Serif, serif" font-size="10" text-anchor="middle" fill="#222">0.40</text>
<line x1="35.8" y1="342.2" x2="38.2" y2="342.2" stroke="#505050" stroke-width="1"/>
<line x1="262.5" y1="342.2" x2="264.9" y2="342.2" stroke="#505050" stroke-width="1"/>
<text x="33.6" y="345.1" font-family="Liberation Serif, serif" font-size="9.7" text-anchor="end" fill="#222">0</text>
<line x1="36.7" y1="324.2" x2="38.2" y2="324.2" stroke="#505050" stroke-width="1"/>
<line x1="263.4" y1="324.2" x2="264.9" y2="324.2" stroke="#505050" stroke-width="1"/>
<line x1="35.8" y1="306.3" x2="38.2" y2="306.3" stroke="#505050" stroke-width="1"/>
<line x1="262.5" y1="306.3" x2="264.9" y2="306.3" stroke="#505050" stroke-width="1"/>
<text x="33.6" y="309.2" font-family="Liberation Serif, serif" font-size="9.7" text-anchor="end" fill="#222">20</text>
<line x1="35.8" y1="276.7" x2="38.2" y2="276.7" stroke="#505050" stroke-width="1"/>
<line x1="262.5" y1="276.7" x2="264.9" y2="276.7" stroke="#505050" stroke-width="1"/>
<text x="33.6" y="279.6" font-family="Liberation Serif, serif" font-size="9.7" text-anchor="end" fill="#222">100</text>
<line x1="36.7" y1="258.9" x2="38.2" y2="258.9" stroke="#505050" stroke-width="1"/>
<line x1="263.4" y1="258.9" x2="264.9" y2="258.9" stroke="#505050" stroke-width="1"/>
<line x1="35.8" y1="241" x2="38.2" y2="241" stroke="#505050" stroke-width="1"/>
<line x1="262.5" y1="241" x2="264.9" y2="241" stroke="#505050" stroke-width="1"/>
<text x="33.6" y="243.9" font-family="Liberation Serif, serif" font-size="9.7" text-anchor="end" fill="#222">120</text>
<line x1="36.7" y1="223.2" x2="38.2" y2="223.2" stroke="#505050" stroke-width="1"/>
<line x1="263.4" y1="223.2" x2="264.9" y2="223.2" stroke="#505050" stroke-width="1"/>
<line x1="35.8" y1="205.4" x2="38.2" y2="205.4" stroke="#505050" stroke-width="1"/>
<line x1="262.5" y1="205.4" x2="264.9" y2="205.4" stroke="#505050" stroke-width="1"/>
<text x="33.6" y="208.3" font-family="Liberation Serif, serif" font-size="9.7" text-anchor="end" fill="#222">140</text>
<text x="151.5" y="367.7" font-family="Liberation Serif, serif" font-size="11.1" text-anchor="middle" fill="#222">True Strain</text>
<text transform="translate(15.7,269.4) rotate(-90)" font-family="Liberation Serif, serif" font-size="11.25" text-anchor="middle" fill="#222">True Stress (MPa)</text>
<text x="212.7" y="211.2" font-family="Liberation Serif, serif" font-size="8.6" fill="#222" style="stroke-width:0.4px">T = 980°C</text>
<text x="136" y="382.7" font-family="Liberation Serif, serif" font-size="12.1" text-anchor="middle" fill="#111">(<tspan font-weight="bold">c</tspan>)</text>
<text x="77.4" y="280.1" font-family="Liberation Serif, serif" font-size="8.7" fill="#222" style="stroke-width:0.4px">95% Confidence Interval</text>
<line x1="57.6" y1="292.4" x2="77.4" y2="292.4" stroke="#f5862a" stroke-width="1.3"/>
<line x1="78.8" y1="292.4" x2="99.7" y2="292.4" stroke="#f5862a" stroke-width="1.1" stroke-dasharray="2.9,1.7"/>
<circle cx="89.4" cy="292.4" r="1.8" fill="#f5862a"/>
<text x="100.5" y="296.2" font-family="Liberation Serif, serif" font-size="9" fill="#222" style="stroke-width:0.35px"><tspan font-style="italic" font-size="9.6">f</tspan><tspan font-size="7.6" dx="0.5" dy="2.3">δ</tspan><tspan dx="0.35" dy="-2.3"> = 0%</tspan></text>
<rect x="145.6" y="287.4" width="20" height="10" fill="#fcdcc4" stroke="#f6c29a" stroke-width="0.6"/>
<line x1="57.6" y1="305.3" x2="77.4" y2="305.3" stroke="#1a87c3" stroke-width="1.3"/>
<line x1="78.8" y1="305.3" x2="99.7" y2="305.3" stroke="#1a87c3" stroke-width="1.1" stroke-dasharray="2.9,1.7"/>
<rect x="88" y="303.9" width="2.8" height="2.8" fill="#1a87c3"/>
<text x="100.5" y="309.1" font-family="Liberation Serif, serif" font-size="9" fill="#222" style="stroke-width:0.35px"><tspan font-style="italic" font-size="9.6">f</tspan><tspan font-size="7.6" dx="0.5" dy="2.3">δ</tspan><tspan dx="0.35" dy="-2.3"> = 4.96%</tspan></text>
<rect x="145.6" y="300.3" width="20" height="10" fill="#a0e2f8" stroke="#52b5e0" stroke-width="0.6"/>
<line x1="57.6" y1="318.3" x2="77.4" y2="318.3" stroke="#f46a70" stroke-width="1.3"/>
<line x1="78.8" y1="318.3" x2="99.7" y2="318.3" stroke="#f46a70" stroke-width="1.1" stroke-dasharray="2.9,1.7"/>
<path d="M89.4,316.2 L87.3,319.8 L91.5,319.8 Z" fill="#f46a70"/>
<text x="100.5" y="322.1" font-family="Liberation Serif, serif" font-size="9" fill="#222" style="stroke-width:0.35px"><tspan font-style="italic" font-size="9.6">f</tspan><tspan font-size="7.6" dx="0.5" dy="2.3">δ</tspan><tspan dx="0.35" dy="-2.3"> = 7.80%</tspan></text>
<rect x="145.6" y="313.3" width="20" height="10" fill="#fcd3d6" stroke="#f4aab0" stroke-width="0.6"/>
<line x1="57.6" y1="331.2" x2="77.4" y2="331.2" stroke="#9479c8" stroke-width="1.3"/>
<line x1="78.8" y1="331.2" x2="99.7" y2="331.2" stroke="#9479c8" stroke-width="1.1" stroke-dasharray="2.9,1.7"/>
<path d="M89.4,333.3 L87.3,329.7 L91.5,329.7 Z" fill="#9479c8"/>
<text x="100.5" y="335.1" font-family="Liberation Serif, serif" font-size="9" fill="#222" style="stroke-width:0.35px"><tspan font-style="italic" font-size="9.6">f</tspan><tspan font-size="7.6" dx="0.5" dy="2.3">δ</tspan><tspan dx="0.35" dy="-2.3"> = 12.09%</tspan></text>
<rect x="145.6" y="326.2" width="20" height="10" fill="#d8cfea" stroke="#b9a8dc" stroke-width="0.6"/>
<path d="M335,256.6 L335.6,256.4 L336.2,256.2 L336.7,256 L337.3,255.8 L337.8,255.5 L338.2,255.1 L338.6,254.6 L338.9,254.1 L339.2,253.7 L339.6,253.3 L340.6,252.5 L341.7,251.7 L342.8,251 L343.9,250.3 L345,249.7 L346.8,248.9 L348.6,248.1 L350.4,247.4 L352.2,246.7 L354,246 L355.8,245.2 L357.6,244.4 L359.4,243.7 L361.2,243 L363,242.4 L366,241.5 L369,240.7 L372,240 L375,239.3 L378,238.7 L380.8,238.1 L383.6,237.7 L386.5,237.2 L389.3,236.8 L392.1,236.3 L394.7,235.7 L397.3,235.1 L399.8,234.5 L402.4,233.9 L405,233.4 L410.4,232.6 L415.8,231.9 L421.2,231.3 L426.6,230.7 L432,230.1 L437.4,229.5 L442.8,229 L448.1,228.5 L453.5,228 L458.9,227.5 L464.3,227.1 L469.7,226.8 L475.1,226.5 L480.5,226.2 L485.9,225.9 L491.3,225.7 L496.7,225.5 L502,225.4 L507.4,225.3 L512.8,225.3 L517.9,225.3 L523,225.4 L528.2,225.6 L533.3,225.7 L538.4,225.9 L538.4,236.9 L533.3,236.5 L528.2,236.1 L523,235.8 L517.9,235.4 L512.8,235.1 L507.4,234.9 L502,234.8 L496.7,234.7 L491.3,234.7 L485.9,234.7 L480.5,234.7 L475.1,234.7 L469.7,234.8 L464.3,234.9 L458.9,235.1 L453.5,235.3 L448.1,235.5 L442.8,235.8 L437.4,236.2 L432,236.5 L426.6,236.8 L421.2,237.2 L415.8,237.6 L410.4,238.1 L405,238.6 L402.4,239 L399.8,239.5 L397.3,240.1 L394.7,240.6 L392.1,241.1 L389.3,241.6 L386.5,242 L383.6,242.4 L380.8,242.8 L378,243.3 L375,243.9 L372,244.6 L369,245.3 L366,246 L363,246.8 L361.2,247.4 L359.4,248.1 L357.6,248.8 L355.8,249.5 L354,250.2 L352.2,250.9 L350.4,251.6 L348.6,252.3 L346.8,253.1 L345,253.9 L343.9,254.5 L342.8,255.1 L341.7,255.8 L340.6,256.6 L339.6,257.3 L339.2,257.7 L338.9,258.2 L338.6,258.7 L338.2,259.1 L337.8,259.5 L337.3,259.8 L336.7,260 L336.2,260.2 L335.6,260.4 L335,260.6 Z" fill="#f9b98a" fill-opacity="0.55"/>
<path d="M323.4,310.4 C325.1,306.7 327.5,303.3 328.4,299.3 C329.9,293 329.9,286.4 330.5,280 C331,274 331.2,268 331.7,262 C331.8,260.8 331.6,259.5 332.4,258.6 C333,257.9 334.1,258.4 335,258.3 C335.9,258.2 337,258.5 337.8,258 C338.7,257.3 338.7,255.8 339.6,255 C341.2,253.5 343.1,252.4 345,251.4 C347.9,249.9 351,248.9 354,247.7 C357,246.5 359.9,245 363,244.1 C367.9,242.6 373,241.5 378,240.5 C382.7,239.6 387.4,239.1 392.1,238.2 C396.4,237.4 400.7,236.1 405,235.4 C414,234 423,233 432,232 C441,231 449.9,230.3 458.9,229.6 C467.9,228.9 476.9,228.4 485.9,228 C494.9,227.6 503.8,227.3 512.8,227.3 C521.3,227.3 529.9,227.6 538.4,227.8" fill="none" stroke="#f5862a" stroke-width="1.2"/>
<path d="M335,258.6 C335.9,258.2 337,258.1 337.8,257.5 C338.6,256.9 338.9,255.9 339.6,255.3 C341.3,254 343.1,252.8 345,251.8 C347.9,250.3 351,249.3 354,248.1 C357,246.9 359.9,245.5 363,244.6 C367.9,243.1 373,242 378,241 C382.7,240.1 387.4,239.6 392.1,238.7 C396.4,237.9 400.6,236.6 405,236 C414,234.8 423,234.1 432,233.3 C441,232.5 449.9,231.8 458.9,231.3 C467.9,230.8 476.9,230.5 485.9,230.3 C494.9,230.1 503.8,230 512.8,230.2 C521.3,230.4 529.9,231 538.4,231.4" fill="none" stroke="#f5862a" stroke-width="1.05" stroke-dasharray="2.9,1.7"/>
<circle cx="538.4" cy="231.4" r="1.9" fill="#f5862a"/>
<circle cx="527.6" cy="230.8" r="1.9" fill="#f5862a"/>
<circle cx="516.8" cy="230.3" r="1.9" fill="#f5862a"/>
<circle cx="506" cy="230.1" r="1.9" fill="#f5862a"/>
<circle cx="495.2" cy="230.1" r="1.9" fill="#f5862a"/>
<circle cx="484.4" cy="230.3" r="1.9" fill="#f5862a"/>
<circle cx="473.6" cy="230.6" r="1.9" fill="#f5862a"/>
<circle cx="462.8" cy="231.1" r="1.9" fill="#f5862a"/>
<circle cx="452" cy="231.7" r="1.9" fill="#f5862a"/>
<circle cx="441.2" cy="232.5" r="1.9" fill="#f5862a"/>
<circle cx="430.4" cy="233.4" r="1.9" fill="#f5862a"/>
<circle cx="419.6" cy="234.4" r="1.9" fill="#f5862a"/>
<circle cx="408.8" cy="235.5" r="1.9" fill="#f5862a"/>
<circle cx="398" cy="237.4" r="1.9" fill="#f5862a"/>
<circle cx="387.2" cy="239.5" r="1.9" fill="#f5862a"/>
<circle cx="376.4" cy="241.3" r="1.9" fill="#f5862a"/>
<circle cx="365.6" cy="243.9" r="1.9" fill="#f5862a"/>
<circle cx="354.8" cy="247.8" r="1.9" fill="#f5862a"/>
<circle cx="344" cy="252.3" r="1.9" fill="#f5862a"/>
<path d="M337.8,208.3 L338.9,207.8 L340,207.2 L341.1,206.7 L342.2,206.2 L343.3,205.8 L344.5,205.3 L345.8,205 L347,204.7 L348.2,204.5 L349.5,204.4 L351.6,204.2 L353.7,204.1 L355.8,204 L357.9,204 L360,204.1 L361.6,204.2 L363.2,204.5 L364.8,204.8 L366.4,205.1 L368,205.5 L370.3,206 L372.5,206.6 L374.8,207.2 L377.1,207.8 L379.3,208.5 L381.9,209.3 L384.4,210.2 L387,211 L389.6,211.9 L392.1,212.8 L396.7,214.4 L401.3,215.9 L406,217.4 L410.5,219.1 L415,221 L420.7,223.4 L426.2,225.9 L431.7,228.6 L437.2,231.3 L442.7,234 L446.5,235.9 L450.3,237.8 L454,239.7 L457.8,241.6 L461.6,243.4 L464.3,244.6 L467,245.6 L469.7,246.7 L472.4,247.8 L475.1,249.1 L479.5,251.3 L483.8,253.6 L488.1,256 L492.4,258.4 L496.6,260.9 L500.7,263.4 L504.8,266 L508.8,268.7 L512.9,271.3 L516.9,274 L516.9,302 L512.9,298.7 L508.8,295.4 L504.8,292 L500.7,288.8 L496.6,285.5 L492.4,282.4 L488.1,279.3 L483.8,276.2 L479.5,273.2 L475.1,270.3 L472.4,268.7 L469.7,267.2 L467,265.7 L464.3,264.2 L461.6,262.6 L457.8,260.2 L454,257.8 L450.3,255.3 L446.5,252.8 L442.7,250.4 L437.2,246.9 L431.7,243.3 L426.2,239.7 L420.7,236.3 L415,233 L410.5,231 L406,229.2 L401.3,227.5 L396.7,225.9 L392.1,224.2 L389.6,223.2 L387,222.2 L384.4,221.3 L381.9,220.4 L379.3,219.5 L377.1,218.8 L374.8,218.1 L372.5,217.5 L370.3,216.9 L368,216.3 L366.4,215.9 L364.8,215.5 L363.2,215.2 L361.6,214.9 L360,214.7 L357.9,214.6 L355.8,214.6 L353.7,214.6 L351.6,214.7 L349.5,214.8 L348.2,215 L347,215.2 L345.8,215.4 L344.5,215.6 L343.3,215.8 L342.2,216.1 L341.1,216.4 L340,216.7 L338.9,217 L337.8,217.3 Z" fill="#b7a5dc" fill-opacity="0.58"/>
<path d="M323,310.4 C323.6,303.1 324.1,295.8 324.7,288.5 C325.3,280.7 325.9,272.8 326.7,265 C327.2,259.7 327.9,254.3 328.6,249 C329,245.5 329.5,242 330,238.5 C330.6,234.2 331.1,229.8 331.9,225.5 C332.2,223.7 332.7,221.9 333.4,220.3 C334.2,218.5 335.5,217.1 336.5,215.4 C337.1,214.4 337.2,213 338.1,212.2 C339.6,211 341.5,210.4 343.3,209.8 C345.3,209.1 347.4,208.6 349.5,208.4 C353,208 356.5,207.8 360,208 C362.7,208.2 365.4,208.8 368,209.5 C371.8,210.5 375.6,211.7 379.3,213 C383.6,214.4 387.8,216.1 392.1,217.6 C396.4,219.1 400.9,220.1 405,222 C414.2,226.1 423,231 432,235.4 C441,239.8 450,244 458.9,248.5 C463.4,250.8 467.7,253.7 472.4,255.6 C479.4,258.4 486.9,259.8 494,262.4 C501.8,265.2 509.3,268.7 516.9,271.8" fill="none" stroke="#9479c8" stroke-width="1.2"/>
<path d="M337.8,212.8 C339.6,212.1 341.4,211.3 343.3,210.8 C345.3,210.2 347.4,209.8 349.5,209.6 C353,209.3 356.5,209.2 360,209.4 C362.7,209.6 365.4,210.3 368,210.9 C371.8,211.8 375.6,212.8 379.3,214 C383.6,215.4 387.9,217 392.1,218.5 C399.8,221.3 407.6,223.5 415,227 C424.5,231.5 433.5,237.1 442.7,242.2 C449,245.7 455.2,249.6 461.6,253 C466,255.4 470.7,257.2 475.1,259.7 C482.4,263.9 489.6,268.5 496.6,273.2 C503.5,277.9 510.1,283.1 516.9,288" fill="none" stroke="#9479c8" stroke-width="1.05" stroke-dasharray="2.9,1.7"/>
<path d="M516.9,290.1 L514.8,286.4 L519,286.4 Z" fill="#9479c8"/>
<path d="M506.1,282.1 L504,278.4 L508.2,278.4 Z" fill="#9479c8"/>
<path d="M495.3,274.5 L493.2,270.8 L497.4,270.8 Z" fill="#9479c8"/>
<path d="M484.5,267.5 L482.4,263.8 L486.6,263.8 Z" fill="#9479c8"/>
<path d="M473.7,261 L471.6,257.3 L475.8,257.3 Z" fill="#9479c8"/>
<path d="M462.9,255.8 L460.8,252.1 L465,252.1 Z" fill="#9479c8"/>
<path d="M452.1,249.7 L450,246 L454.2,246 Z" fill="#9479c8"/>
<path d="M441.3,243.5 L439.2,239.8 L443.4,239.8 Z" fill="#9479c8"/>
<path d="M430.5,237.3 L428.4,233.6 L432.6,233.6 Z" fill="#9479c8"/>
<path d="M419.7,231.4 L417.6,227.7 L421.8,227.7 Z" fill="#9479c8"/>
<path d="M408.9,226.5 L406.8,222.8 L411,222.8 Z" fill="#9479c8"/>
<path d="M398.1,222.7 L396,219 L400.2,219 Z" fill="#9479c8"/>
<path d="M387.3,218.9 L385.2,215.2 L389.4,215.2 Z" fill="#9479c8"/>
<path d="M376.5,215.3 L374.4,211.6 L378.6,211.6 Z" fill="#9479c8"/>
<path d="M365.7,212.5 L363.6,208.8 L367.8,208.8 Z" fill="#9479c8"/>
<path d="M354.9,211.4 L352.8,207.7 L357,207.7 Z" fill="#9479c8"/>
<path d="M344.1,212.7 L342,209 L346.2,209 Z" fill="#9479c8"/>
<path d="M334.6,231.1 L335.3,230 L335.9,228.9 L336.5,227.8 L337.2,226.8 L338,225.8 L338.8,225 L339.7,224.3 L340.7,223.6 L341.7,223 L342.7,222.4 L343.7,221.9 L344.8,221.5 L345.8,221.1 L346.9,220.7 L348,220.4 L349.2,220.1 L350.4,219.7 L351.6,219.5 L352.8,219.3 L354,219.2 L359.1,218.9 L364.1,218.7 L369.2,218.6 L374.2,218.7 L379.3,218.9 L381.9,219.1 L384.5,219.6 L387,220.2 L389.6,220.8 L392.1,221.4 L394.7,221.9 L397.3,222.4 L399.9,223 L402.4,223.5 L405,224.2 L410.4,225.5 L415.9,226.9 L421.3,228.4 L426.7,230 L432,231.6 L437.4,233.6 L442.8,235.6 L448.1,237.8 L453.5,239.9 L458.9,241.8 L464.3,243.6 L469.7,245.2 L475.1,246.8 L480.5,248.4 L485.9,250 L491.3,251.6 L496.6,253.3 L502,255 L507.4,256.7 L512.8,258.2 L517.9,259.6 L523,260.9 L528.1,262.2 L533.3,263.5 L538.4,264.8 L538.4,278.8 L533.3,277.2 L528.1,275.6 L523,274.1 L517.9,272.5 L512.8,270.8 L507.4,268.9 L502,267 L496.6,265 L491.3,263 L485.9,261 L480.5,259.1 L475.1,257.2 L469.7,255.3 L464.3,253.4 L458.9,251.4 L453.5,249.1 L448.1,246.7 L442.8,244.2 L437.4,241.8 L432,239.6 L426.7,237.6 L421.3,235.7 L415.9,233.9 L410.4,232.2 L405,230.5 L402.4,229.7 L399.9,229 L397.3,228.4 L394.7,227.8 L392.1,227.2 L389.6,226.6 L387,226 L384.5,225.4 L381.9,224.9 L379.3,224.5 L374.2,224.3 L369.2,224.2 L364.1,224.2 L359.1,224.3 L354,224.4 L352.8,224.5 L351.6,224.7 L350.4,225 L349.2,225.3 L348,225.6 L346.9,225.9 L345.8,226.3 L344.8,226.6 L343.7,227.1 L342.7,227.6 L341.7,228.1 L340.7,228.7 L339.7,229.3 L338.8,230 L338,230.8 L337.2,231.8 L336.5,232.8 L335.9,233.9 L335.3,235 L334.6,236.1 Z" fill="#f7a3aa" fill-opacity="0.55"/>
<path d="M323.4,310.4 C325.1,306.7 327.6,303.3 328.4,299.3 C329.9,291.3 329.6,283.1 330.2,275 C330.5,270 330.7,265 331.1,260 C331.6,253.3 332,246.6 332.9,240 C333.2,237.6 333.7,235.2 334.6,233 C335.4,231 336.6,229.2 338,227.6 C339.3,226.2 341,225.1 342.7,224.2 C344.4,223.3 346.2,222.7 348,222.2 C350,221.6 352,221.1 354,221 C362.4,220.6 370.9,220.2 379.3,220.7 C383.6,221 387.8,222.4 392.1,223.3 C396.4,224.2 400.8,224.9 405,226 C414.1,228.5 423.1,231 432,234.1 C441.1,237.3 449.8,241.7 458.9,244.9 C467.8,248 476.9,250.3 485.9,253 C494.9,255.7 503.8,258.5 512.8,261 C521.3,263.4 529.9,265.5 538.4,267.8" fill="none" stroke="#f46a70" stroke-width="1.2"/>
<path d="M334.6,233.6 C335.7,231.8 336.6,229.8 338,228.3 C339.3,226.9 341,225.9 342.7,225 C344.4,224.1 346.2,223.5 348,223 C350,222.4 352,221.9 354,221.8 C362.4,221.5 370.9,221.1 379.3,221.7 C383.6,222 387.8,223.4 392.1,224.3 C396.4,225.2 400.8,226.1 405,227.3 C414.1,229.9 423.1,232.4 432,235.6 C441.1,238.9 449.8,243.2 458.9,246.6 C467.8,249.9 476.9,252.5 485.9,255.5 C494.9,258.5 503.8,261.7 512.8,264.5 C521.3,267.1 529.9,269.4 538.4,271.8" fill="none" stroke="#f46a70" stroke-width="1.05" stroke-dasharray="2.9,1.7"/>
<path d="M538.4,269.7 L536.3,273.4 L540.5,273.4 Z" fill="#f46a70"/>
<path d="M527.6,266.7 L525.5,270.4 L529.7,270.4 Z" fill="#f46a70"/>
<path d="M516.8,263.6 L514.7,267.3 L518.9,267.3 Z" fill="#f46a70"/>
<path d="M506,260.2 L503.9,263.9 L508.1,263.9 Z" fill="#f46a70"/>
<path d="M495.2,256.5 L493.1,260.2 L497.3,260.2 Z" fill="#f46a70"/>
<path d="M484.4,252.9 L482.3,256.6 L486.5,256.6 Z" fill="#f46a70"/>
<path d="M473.6,249.4 L471.5,253.1 L475.7,253.1 Z" fill="#f46a70"/>
<path d="M462.8,245.9 L460.7,249.6 L464.9,249.6 Z" fill="#f46a70"/>
<path d="M452,241.7 L449.9,245.4 L454.1,245.4 Z" fill="#f46a70"/>
<path d="M441.2,237.1 L439.1,240.8 L443.3,240.8 Z" fill="#f46a70"/>
<path d="M430.4,232.9 L428.3,236.6 L432.5,236.6 Z" fill="#f46a70"/>
<path d="M419.6,229.4 L417.5,233.1 L421.7,233.1 Z" fill="#f46a70"/>
<path d="M408.8,226.2 L406.7,229.9 L410.9,229.9 Z" fill="#f46a70"/>
<path d="M398,223.4 L395.9,227.1 L400.1,227.1 Z" fill="#f46a70"/>
<path d="M387.2,221 L385.1,224.7 L389.3,224.7 Z" fill="#f46a70"/>
<path d="M376.4,219.4 L374.3,223.1 L378.5,223.1 Z" fill="#f46a70"/>
<path d="M365.6,219.3 L363.5,223 L367.7,223 Z" fill="#f46a70"/>
<path d="M354.8,219.6 L352.7,223.3 L356.9,223.3 Z" fill="#f46a70"/>
<path d="M344,222.2 L341.9,225.9 L346.1,225.9 Z" fill="#f46a70"/>
<path d="M333.4,239.3 L333.9,238.7 L334.4,238 L334.9,237.3 L335.4,236.7 L335.9,236.1 L336.5,235.5 L337.2,234.8 L337.9,234.1 L338.7,233.5 L339.4,232.9 L340.3,232.3 L341.1,231.9 L342.2,231.3 L343.3,230.9 L344.5,230.5 L345.6,230.2 L346.8,229.9 L348,229.6 L349,229.4 L350,229.3 L351,229.1 L352,229.1 L353,229 L354,229 L358.2,228.8 L362.4,228.6 L366.6,228.5 L370.9,228.4 L375.1,228.3 L379.3,228.4 L383.6,228.4 L387.9,228.5 L392.2,228.7 L396.5,228.9 L400.7,229.2 L405,229.3 L409.5,229.6 L414,230 L418.5,230.4 L423,230.9 L427.5,231.4 L432,232 L436.5,232.6 L441,233.2 L445.5,233.9 L450,234.6 L454.4,235.3 L458.9,236.1 L463.4,236.9 L467.9,237.8 L472.4,238.7 L476.9,239.4 L481.4,240.1 L485.9,240.9 L490.4,241.7 L494.9,242.6 L499.3,243.5 L503.8,244.4 L508.3,245.3 L512.8,246.3 L517.1,247.3 L521.3,248.2 L525.6,249.1 L529.9,249.9 L534.1,250.8 L538.4,251.7 L538.4,265.3 L534.1,264.7 L529.9,264 L525.6,263.4 L521.3,262.7 L517.1,262.1 L512.8,261.4 L508.3,260.5 L503.8,259.4 L499.3,258.3 L494.9,257.3 L490.4,256.3 L485.9,255.3 L481.4,254.1 L476.9,252.9 L472.4,251.8 L467.9,250.5 L463.4,249.2 L458.9,247.9 L454.4,246.7 L450,245.5 L445.5,244.4 L441,243.3 L436.5,242.2 L432,241.2 L427.5,240.2 L423,239.2 L418.5,238.3 L414,237.4 L409.5,236.6 L405,235.8 L400.7,235.2 L396.5,234.9 L392.2,234.6 L387.9,234.4 L383.6,234.2 L379.3,234 L375.1,234 L370.9,233.9 L366.6,234 L362.4,234.1 L358.2,234.1 L354,234.2 L353,234.3 L352,234.3 L351,234.4 L350,234.5 L349,234.6 L348,234.8 L346.8,235.1 L345.6,235.3 L344.5,235.7 L343.3,236 L342.2,236.5 L341.1,236.9 L340.3,237.4 L339.4,238 L338.7,238.6 L337.9,239.2 L337.2,239.8 L336.5,240.5 L335.9,241.1 L335.4,241.7 L334.9,242.3 L334.4,243 L333.9,243.7 L333.4,244.3 Z" fill="#5cc6ee" fill-opacity="0.6"/>
<path d="M323.4,310.4 C325.1,306.7 327.5,303.3 328.4,299.3 C329.9,293 330,286.5 330.5,280 C331.2,271.7 331.4,263.3 332,255 C332.3,250.3 332.3,245.5 333.4,241 C333.8,239.4 335.3,238.3 336.5,237.2 C337.9,235.8 339.3,234.3 341.1,233.4 C343.2,232.3 345.6,231.7 348,231.2 C350,230.8 352,230.7 354,230.6 C362.4,230.3 370.9,230.1 379.3,230.2 C387.9,230.3 396.5,230.6 405,231.4 C414.1,232.3 423,233.8 432,235.4 C441,237 450,238.8 458.9,240.8 C468,242.8 476.9,245.3 485.9,247.6 C494.9,249.8 503.8,252.2 512.8,254.3 C521.3,256.3 529.9,257.9 538.4,259.7" fill="none" stroke="#1a87c3" stroke-width="1.2"/>
<path d="M333.4,241.8 C334.4,240.5 335.3,239.1 336.5,238 C337.9,236.7 339.4,235.3 341.1,234.4 C343.3,233.3 345.6,232.7 348,232.2 C350,231.8 352,231.7 354,231.6 C362.4,231.3 370.9,231 379.3,231.2 C387.9,231.4 396.5,231.7 405,232.6 C414.1,233.5 423,235 432,236.6 C441,238.2 450,240 458.9,242 C468,244 476.9,246.5 485.9,248.8 C494.9,251.1 503.8,253.5 512.8,255.6 C521.3,257.6 529.9,259.2 538.4,261" fill="none" stroke="#1a87c3" stroke-width="1.05" stroke-dasharray="2.9,1.7"/>
<rect x="537" y="259.6" width="2.9" height="2.9" fill="#1a87c3"/>
<rect x="526.2" y="257.3" width="2.9" height="2.9" fill="#1a87c3"/>
<rect x="515.4" y="255.1" width="2.9" height="2.9" fill="#1a87c3"/>
<rect x="504.6" y="252.5" width="2.9" height="2.9" fill="#1a87c3"/>
<rect x="493.8" y="249.7" width="2.9" height="2.9" fill="#1a87c3"/>
<rect x="483" y="247" width="2.9" height="2.9" fill="#1a87c3"/>
<rect x="472.2" y="244.2" width="2.9" height="2.9" fill="#1a87c3"/>
<rect x="461.4" y="241.5" width="2.9" height="2.9" fill="#1a87c3"/>
<rect x="450.6" y="239" width="2.9" height="2.9" fill="#1a87c3"/>
<rect x="439.8" y="236.8" width="2.9" height="2.9" fill="#1a87c3"/>
<rect x="429" y="234.9" width="2.9" height="2.9" fill="#1a87c3"/>
<rect x="418.2" y="233.1" width="2.9" height="2.9" fill="#1a87c3"/>
<rect x="407.4" y="231.6" width="2.9" height="2.9" fill="#1a87c3"/>
<rect x="396.6" y="230.5" width="2.9" height="2.9" fill="#1a87c3"/>
<rect x="385.8" y="230" width="2.9" height="2.9" fill="#1a87c3"/>
<rect x="375" y="229.7" width="2.9" height="2.9" fill="#1a87c3"/>
<rect x="364.2" y="229.8" width="2.9" height="2.9" fill="#1a87c3"/>
<rect x="353.4" y="230.1" width="2.9" height="2.9" fill="#1a87c3"/>
<rect x="342.6" y="231.8" width="2.9" height="2.9" fill="#1a87c3"/>
<path d="M317.8,342.4 L322.6,314.3" fill="none" stroke="#f5862a" stroke-width="1.3"/>
<path d="M317.8,342.4 L322.6,314.3" fill="none" stroke="#1a87c3" stroke-width="1.3"/>
<path d="M317.7,342.4 L322.5,314.3" fill="none" stroke="#f46a70" stroke-width="1.3"/>
<path d="M317.6,342.4 L322.3,314.3" fill="none" stroke="#9479c8" stroke-width="1.3"/>
<path d="M317.6,311.2 L317.6,196.4 L544.3,196.4 L544.3,311.2 M317.6,313.6 L317.6,342.4 L544.3,342.4 L544.3,313.6" fill="none" stroke="#707070" stroke-width="1.4"/>
<line x1="315" y1="312.4" x2="320.2" y2="310" stroke="#444" stroke-width="0.9"/>
<line x1="315" y1="314.8" x2="320.2" y2="312.4" stroke="#444" stroke-width="0.9"/>
<line x1="541.7" y1="312.4" x2="546.9" y2="310" stroke="#444" stroke-width="0.9"/>
<line x1="541.7" y1="314.8" x2="546.9" y2="312.4" stroke="#444" stroke-width="0.9"/>
<line x1="317.6" y1="342.4" x2="317.6" y2="344.8" stroke="#707070" stroke-width="0.9"/>
<text x="317.6" y="354.2" font-family="Liberation Serif, serif" font-size="10" text-anchor="middle" fill="#222">0.00</text>
<line x1="338.7" y1="342.4" x2="338.7" y2="343.9" stroke="#505050" stroke-width="1"/>
<line x1="338.7" y1="196.4" x2="338.7" y2="197.9" stroke="#505050" stroke-width="1"/>
<line x1="359.8" y1="342.4" x2="359.8" y2="344.8" stroke="#505050" stroke-width="1"/>
<line x1="359.8" y1="196.4" x2="359.8" y2="198.8" stroke="#505050" stroke-width="1"/>
<text x="359.8" y="354.2" font-family="Liberation Serif, serif" font-size="10" text-anchor="middle" fill="#222">0.08</text>
<line x1="380.9" y1="342.4" x2="380.9" y2="343.9" stroke="#505050" stroke-width="1"/>
<line x1="380.9" y1="196.4" x2="380.9" y2="197.9" stroke="#505050" stroke-width="1"/>
<line x1="402" y1="342.4" x2="402" y2="344.8" stroke="#505050" stroke-width="1"/>
<line x1="402" y1="196.4" x2="402" y2="198.8" stroke="#505050" stroke-width="1"/>
<text x="402" y="354.2" font-family="Liberation Serif, serif" font-size="10" text-anchor="middle" fill="#222">0.16</text>
<line x1="423.1" y1="342.4" x2="423.1" y2="343.9" stroke="#505050" stroke-width="1"/>
<line x1="423.1" y1="196.4" x2="423.1" y2="197.9" stroke="#505050" stroke-width="1"/>
<line x1="444.2" y1="342.4" x2="444.2" y2="344.8" stroke="#505050" stroke-width="1"/>
<line x1="444.2" y1="196.4" x2="444.2" y2="198.8" stroke="#505050" stroke-width="1"/>
<text x="444.2" y="354.2" font-family="Liberation Serif, serif" font-size="10" text-anchor="middle" fill="#222">0.24</text>
<line x1="465.3" y1="342.4" x2="465.3" y2="343.9" stroke="#505050" stroke-width="1"/>
<line x1="465.3" y1="196.4" x2="465.3" y2="197.9" stroke="#505050" stroke-width="1"/>
<line x1="486.4" y1="342.4" x2="486.4" y2="344.8" stroke="#505050" stroke-width="1"/>
<line x1="486.4" y1="196.4" x2="486.4" y2="198.8" stroke="#505050" stroke-width="1"/>
<text x="486.4" y="354.2" font-family="Liberation Serif, serif" font-size="10" text-anchor="middle" fill="#222">0.32</text>
<line x1="507.5" y1="342.4" x2="507.5" y2="343.9" stroke="#505050" stroke-width="1"/>
<line x1="507.5" y1="196.4" x2="507.5" y2="197.9" stroke="#505050" stroke-width="1"/>
<line x1="528.6" y1="342.4" x2="528.6" y2="344.8" stroke="#505050" stroke-width="1"/>
<line x1="528.6" y1="196.4" x2="528.6" y2="198.8" stroke="#505050" stroke-width="1"/>
<text x="528.6" y="354.2" font-family="Liberation Serif, serif" font-size="10" text-anchor="middle" fill="#222">0.40</text>
<line x1="315.2" y1="342.4" x2="317.6" y2="342.4" stroke="#505050" stroke-width="1"/>
<line x1="541.9" y1="342.4" x2="544.3" y2="342.4" stroke="#505050" stroke-width="1"/>
<text x="313" y="345.3" font-family="Liberation Serif, serif" font-size="9.7" text-anchor="end" fill="#222">0</text>
<line x1="316.1" y1="327" x2="317.6" y2="327" stroke="#505050" stroke-width="1"/>
<line x1="542.8" y1="327" x2="544.3" y2="327" stroke="#505050" stroke-width="1"/>
<line x1="315.2" y1="296.4" x2="317.6" y2="296.4" stroke="#505050" stroke-width="1"/>
<line x1="541.9" y1="296.4" x2="544.3" y2="296.4" stroke="#505050" stroke-width="1"/>
<text x="313" y="299.3" font-family="Liberation Serif, serif" font-size="9.7" text-anchor="end" fill="#222">150</text>
<line x1="316.1" y1="282.1" x2="317.6" y2="282.1" stroke="#505050" stroke-width="1"/>
<line x1="542.8" y1="282.1" x2="544.3" y2="282.1" stroke="#505050" stroke-width="1"/>
<line x1="315.2" y1="267.8" x2="317.6" y2="267.8" stroke="#505050" stroke-width="1"/>
<line x1="541.9" y1="267.8" x2="544.3" y2="267.8" stroke="#505050" stroke-width="1"/>
<text x="313" y="270.7" font-family="Liberation Serif, serif" font-size="9.7" text-anchor="end" fill="#222">170</text>
<line x1="316.1" y1="253.5" x2="317.6" y2="253.5" stroke="#505050" stroke-width="1"/>
<line x1="542.8" y1="253.5" x2="544.3" y2="253.5" stroke="#505050" stroke-width="1"/>
<line x1="315.2" y1="239.2" x2="317.6" y2="239.2" stroke="#505050" stroke-width="1"/>
<line x1="541.9" y1="239.2" x2="544.3" y2="239.2" stroke="#505050" stroke-width="1"/>
<text x="313" y="242.1" font-family="Liberation Serif, serif" font-size="9.7" text-anchor="end" fill="#222">190</text>
<line x1="316.1" y1="224.9" x2="317.6" y2="224.9" stroke="#505050" stroke-width="1"/>
<line x1="542.8" y1="224.9" x2="544.3" y2="224.9" stroke="#505050" stroke-width="1"/>
<line x1="315.2" y1="210.6" x2="317.6" y2="210.6" stroke="#505050" stroke-width="1"/>
<line x1="541.9" y1="210.6" x2="544.3" y2="210.6" stroke="#505050" stroke-width="1"/>
<text x="313" y="213.5" font-family="Liberation Serif, serif" font-size="9.7" text-anchor="end" fill="#222">210</text>
<text x="430.9" y="367.7" font-family="Liberation Serif, serif" font-size="11.1" text-anchor="middle" fill="#222">True Strain</text>
<text transform="translate(295.1,269.4) rotate(-90)" font-family="Liberation Serif, serif" font-size="11.25" text-anchor="middle" fill="#222">True Stress (MPa)</text>
<text x="492.1" y="211.2" font-family="Liberation Serif, serif" font-size="8.6" fill="#222" style="stroke-width:0.4px">T = 980°C</text>
<text x="415.3" y="382.7" font-family="Liberation Serif, serif" font-size="12.1" text-anchor="middle" fill="#111">(<tspan font-weight="bold">d</tspan>)</text>
<text x="356.8" y="280.1" font-family="Liberation Serif, serif" font-size="8.7" fill="#222" style="stroke-width:0.4px">95% Confidence Interval</text>
<line x1="337" y1="292.4" x2="356.8" y2="292.4" stroke="#f5862a" stroke-width="1.3"/>
<line x1="358.2" y1="292.4" x2="379.1" y2="292.4" stroke="#f5862a" stroke-width="1.1" stroke-dasharray="2.9,1.7"/>
<circle cx="368.8" cy="292.4" r="1.8" fill="#f5862a"/>
<text x="379.9" y="296.2" font-family="Liberation Serif, serif" font-size="9" fill="#222" style="stroke-width:0.35px"><tspan font-style="italic" font-size="9.6">f</tspan><tspan font-size="7.6" dx="0.5" dy="2.3">δ</tspan><tspan dx="0.35" dy="-2.3"> = 0%</tspan></text>
<rect x="425" y="287.4" width="20" height="10" fill="#fcdcc4" stroke="#f6c29a" stroke-width="0.6"/>
<line x1="337" y1="305.3" x2="356.8" y2="305.3" stroke="#1a87c3" stroke-width="1.3"/>
<line x1="358.2" y1="305.3" x2="379.1" y2="305.3" stroke="#1a87c3" stroke-width="1.1" stroke-dasharray="2.9,1.7"/>
<rect x="367.4" y="303.9" width="2.8" height="2.8" fill="#1a87c3"/>
<text x="379.9" y="309.1" font-family="Liberation Serif, serif" font-size="9" fill="#222" style="stroke-width:0.35px"><tspan font-style="italic" font-size="9.6">f</tspan><tspan font-size="7.6" dx="0.5" dy="2.3">δ</tspan><tspan dx="0.35" dy="-2.3"> = 4.96%</tspan></text>
<rect x="425" y="300.3" width="20" height="10" fill="#a0e2f8" stroke="#52b5e0" stroke-width="0.6"/>
<line x1="337" y1="318.3" x2="356.8" y2="318.3" stroke="#f46a70" stroke-width="1.3"/>
<line x1="358.2" y1="318.3" x2="379.1" y2="318.3" stroke="#f46a70" stroke-width="1.1" stroke-dasharray="2.9,1.7"/>
<path d="M368.8,316.2 L366.7,319.8 L370.9,319.8 Z" fill="#f46a70"/>
<text x="379.9" y="322.1" font-family="Liberation Serif, serif" font-size="9" fill="#222" style="stroke-width:0.35px"><tspan font-style="italic" font-size="9.6">f</tspan><tspan font-size="7.6" dx="0.5" dy="2.3">δ</tspan><tspan dx="0.35" dy="-2.3"> = 7.80%</tspan></text>
<rect x="425" y="313.3" width="20" height="10" fill="#fcd3d6" stroke="#f4aab0" stroke-width="0.6"/>
<line x1="337" y1="331.2" x2="356.8" y2="331.2" stroke="#9479c8" stroke-width="1.3"/>
<line x1="358.2" y1="331.2" x2="379.1" y2="331.2" stroke="#9479c8" stroke-width="1.1" stroke-dasharray="2.9,1.7"/>
<path d="M368.8,333.3 L366.7,329.7 L370.9,329.7 Z" fill="#9479c8"/>
<text x="379.9" y="335.1" font-family="Liberation Serif, serif" font-size="9" fill="#222" style="stroke-width:0.35px"><tspan font-style="italic" font-size="9.6">f</tspan><tspan font-size="7.6" dx="0.5" dy="2.3">δ</tspan><tspan dx="0.35" dy="-2.3"> = 12.09%</tspan></text>
<rect x="425" y="326.2" width="20" height="10" fill="#d8cfea" stroke="#b9a8dc" stroke-width="0.6"/>
</svg>
</body></html>
